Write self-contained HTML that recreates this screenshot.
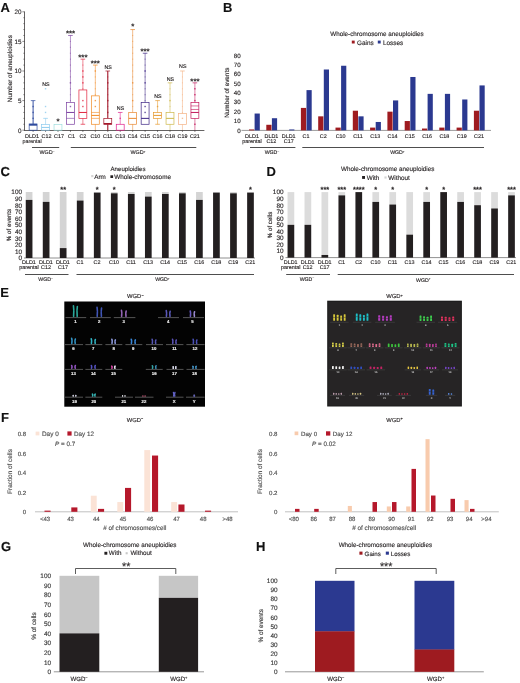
<!DOCTYPE html>
<html lang="en">
<head>
<meta charset="utf-8">
<title>Figure</title>
<style>
html,body{margin:0;padding:0;background:#ffffff;}
body{width:520px;height:683px;overflow:hidden;}
svg{display:block;font-family:"Liberation Sans",sans-serif;}
text{stroke-width:0.13px;paint-order:stroke fill;text-rendering:geometricPrecision;}
</style>
</head>
<body>
<svg width="520" height="683" viewBox="0 0 520 683" font-family="'Liberation Sans', sans-serif">
<rect x="0" y="0" width="520" height="683" fill="#ffffff"/>
<text x="0.50" y="11.80" font-size="13" text-anchor="start" fill="#111111" stroke="#111111" font-weight="bold">A</text>
<text x="223.10" y="11.80" font-size="13" text-anchor="start" fill="#111111" stroke="#111111" font-weight="bold">B</text>
<text x="0.40" y="175.70" font-size="13" text-anchor="start" fill="#111111" stroke="#111111" font-weight="bold">C</text>
<text x="266.50" y="175.60" font-size="13" text-anchor="start" fill="#111111" stroke="#111111" font-weight="bold">D</text>
<text x="0.30" y="297.00" font-size="13" text-anchor="start" fill="#111111" stroke="#111111" font-weight="bold">E</text>
<text x="1.00" y="422.20" font-size="13" text-anchor="start" fill="#111111" stroke="#111111" font-weight="bold">F</text>
<text x="1.00" y="551.20" font-size="13" text-anchor="start" fill="#111111" stroke="#111111" font-weight="bold">G</text>
<text x="256.00" y="551.00" font-size="13" text-anchor="start" fill="#111111" stroke="#111111" font-weight="bold">H</text>
<line x1="24.50" y1="11.50" x2="24.50" y2="130.50" stroke="#231f20" stroke-width="0.7"/>
<line x1="24.20" y1="130.50" x2="204.40" y2="130.50" stroke="#231f20" stroke-width="0.7"/>
<line x1="22.30" y1="130.20" x2="24.50" y2="130.20" stroke="#231f20" stroke-width="0.5"/>
<line x1="23.30" y1="124.28" x2="24.50" y2="124.28" stroke="#231f20" stroke-width="0.5"/>
<line x1="23.30" y1="118.36" x2="24.50" y2="118.36" stroke="#231f20" stroke-width="0.5"/>
<line x1="23.30" y1="112.44" x2="24.50" y2="112.44" stroke="#231f20" stroke-width="0.5"/>
<line x1="23.30" y1="106.52" x2="24.50" y2="106.52" stroke="#231f20" stroke-width="0.5"/>
<line x1="22.30" y1="100.60" x2="24.50" y2="100.60" stroke="#231f20" stroke-width="0.5"/>
<line x1="23.30" y1="94.68" x2="24.50" y2="94.68" stroke="#231f20" stroke-width="0.5"/>
<line x1="23.30" y1="88.76" x2="24.50" y2="88.76" stroke="#231f20" stroke-width="0.5"/>
<line x1="23.30" y1="82.84" x2="24.50" y2="82.84" stroke="#231f20" stroke-width="0.5"/>
<line x1="23.30" y1="76.92" x2="24.50" y2="76.92" stroke="#231f20" stroke-width="0.5"/>
<line x1="22.30" y1="71.00" x2="24.50" y2="71.00" stroke="#231f20" stroke-width="0.5"/>
<line x1="23.30" y1="65.08" x2="24.50" y2="65.08" stroke="#231f20" stroke-width="0.5"/>
<line x1="23.30" y1="59.16" x2="24.50" y2="59.16" stroke="#231f20" stroke-width="0.5"/>
<line x1="23.30" y1="53.24" x2="24.50" y2="53.24" stroke="#231f20" stroke-width="0.5"/>
<line x1="23.30" y1="47.32" x2="24.50" y2="47.32" stroke="#231f20" stroke-width="0.5"/>
<line x1="22.30" y1="41.40" x2="24.50" y2="41.40" stroke="#231f20" stroke-width="0.5"/>
<line x1="23.30" y1="35.48" x2="24.50" y2="35.48" stroke="#231f20" stroke-width="0.5"/>
<line x1="23.30" y1="29.56" x2="24.50" y2="29.56" stroke="#231f20" stroke-width="0.5"/>
<line x1="23.30" y1="23.64" x2="24.50" y2="23.64" stroke="#231f20" stroke-width="0.5"/>
<line x1="23.30" y1="17.72" x2="24.50" y2="17.72" stroke="#231f20" stroke-width="0.5"/>
<line x1="22.30" y1="11.80" x2="24.50" y2="11.80" stroke="#231f20" stroke-width="0.5"/>
<text x="21.50" y="132.50" font-size="6.3" text-anchor="end" fill="#231f20" stroke="#231f20">0</text>
<text x="21.50" y="102.90" font-size="6.3" text-anchor="end" fill="#231f20" stroke="#231f20">5</text>
<text x="21.50" y="73.30" font-size="6.3" text-anchor="end" fill="#231f20" stroke="#231f20">10</text>
<text x="21.50" y="43.70" font-size="6.3" text-anchor="end" fill="#231f20" stroke="#231f20">15</text>
<text x="21.50" y="14.10" font-size="6.3" text-anchor="end" fill="#231f20" stroke="#231f20">20</text>
<line x1="33.10" y1="130.20" x2="33.10" y2="132.00" stroke="#231f20" stroke-width="0.5"/>
<line x1="45.55" y1="130.20" x2="45.55" y2="132.00" stroke="#231f20" stroke-width="0.5"/>
<line x1="57.99" y1="130.20" x2="57.99" y2="132.00" stroke="#231f20" stroke-width="0.5"/>
<line x1="70.44" y1="130.20" x2="70.44" y2="132.00" stroke="#231f20" stroke-width="0.5"/>
<line x1="82.88" y1="130.20" x2="82.88" y2="132.00" stroke="#231f20" stroke-width="0.5"/>
<line x1="95.33" y1="130.20" x2="95.33" y2="132.00" stroke="#231f20" stroke-width="0.5"/>
<line x1="107.78" y1="130.20" x2="107.78" y2="132.00" stroke="#231f20" stroke-width="0.5"/>
<line x1="120.22" y1="130.20" x2="120.22" y2="132.00" stroke="#231f20" stroke-width="0.5"/>
<line x1="132.67" y1="130.20" x2="132.67" y2="132.00" stroke="#231f20" stroke-width="0.5"/>
<line x1="145.11" y1="130.20" x2="145.11" y2="132.00" stroke="#231f20" stroke-width="0.5"/>
<line x1="157.56" y1="130.20" x2="157.56" y2="132.00" stroke="#231f20" stroke-width="0.5"/>
<line x1="170.01" y1="130.20" x2="170.01" y2="132.00" stroke="#231f20" stroke-width="0.5"/>
<line x1="182.45" y1="130.20" x2="182.45" y2="132.00" stroke="#231f20" stroke-width="0.5"/>
<line x1="194.90" y1="130.20" x2="194.90" y2="132.00" stroke="#231f20" stroke-width="0.5"/>
<text x="11.80" y="68.70" font-size="6.35" text-anchor="middle" fill="#231f20" stroke="#231f20" transform="rotate(-90 11.80 68.70)">Number of aneuploidies</text>
<line x1="33.10" y1="100.60" x2="33.10" y2="123.98" stroke="#2f4b9f" stroke-width="0.95"/>
<line x1="30.80" y1="100.60" x2="35.40" y2="100.60" stroke="#2f4b9f" stroke-width="0.7"/>
<rect x="29.15" y="123.98" width="7.90" height="6.22" fill="none" stroke="#2f4b9f" stroke-width="0.7"/>
<line x1="29.15" y1="124.58" x2="37.05" y2="124.58" stroke="#2f4b9f" stroke-width="1.4"/>
<line x1="29.15" y1="125.46" x2="37.05" y2="125.46" stroke="#2f4b9f" stroke-width="0.6"/>
<rect x="32.40" y="117.66" width="1.40" height="1.40" fill="#2f4b9f" opacity="0.8"/>
<rect x="32.40" y="111.74" width="1.40" height="1.40" fill="#2f4b9f" opacity="0.8"/>
<rect x="32.40" y="105.82" width="1.40" height="1.40" fill="#2f4b9f" opacity="0.8"/>
<text x="32.00" y="138.10" font-size="5.5" text-anchor="middle" fill="#231f20" stroke="#231f20">DLD1</text>
<text x="32.10" y="142.70" font-size="5.3" text-anchor="middle" fill="#231f20" stroke="#231f20">parental</text>
<line x1="45.55" y1="118.36" x2="45.55" y2="124.52" stroke="#8ccbee" stroke-width="0.55"/>
<line x1="43.25" y1="118.36" x2="47.85" y2="118.36" stroke="#8ccbee" stroke-width="0.7"/>
<rect x="41.60" y="124.52" width="7.90" height="5.68" fill="none" stroke="#8ccbee" stroke-width="0.7"/>
<line x1="41.60" y1="127.42" x2="49.50" y2="127.42" stroke="#8ccbee" stroke-width="1.0"/>
<rect x="44.85" y="111.74" width="1.40" height="1.40" fill="#8ccbee" opacity="0.8"/>
<rect x="44.85" y="105.82" width="1.40" height="1.40" fill="#8ccbee" opacity="0.8"/>
<rect x="44.85" y="88.06" width="1.40" height="1.40" fill="#8ccbee" opacity="0.8"/>
<text x="45.85" y="85.60" font-size="5.3" text-anchor="middle" fill="#231f20" stroke="#231f20">NS</text>
<text x="46.55" y="138.10" font-size="5.4" text-anchor="middle" fill="#231f20" stroke="#231f20">C12</text>
<line x1="57.99" y1="124.52" x2="57.99" y2="124.52" stroke="#9fdede" stroke-width="0.55"/>
<rect x="54.04" y="124.52" width="7.90" height="5.68" fill="none" stroke="#9fdede" stroke-width="0.7"/>
<text x="57.99" y="124.40" font-size="7.8" text-anchor="middle" fill="#231f20" stroke="#231f20" font-weight="bold">*</text>
<text x="58.99" y="138.10" font-size="5.4" text-anchor="middle" fill="#231f20" stroke="#231f20">C17</text>
<line x1="70.44" y1="35.48" x2="70.44" y2="102.38" stroke="#7b3fa0" stroke-width="0.55"/>
<line x1="68.14" y1="35.48" x2="72.74" y2="35.48" stroke="#7b3fa0" stroke-width="0.7"/>
<rect x="66.49" y="102.38" width="7.90" height="21.90" fill="none" stroke="#7b3fa0" stroke-width="0.7"/>
<line x1="66.49" y1="112.44" x2="74.39" y2="112.44" stroke="#7b3fa0" stroke-width="1.0"/>
<line x1="66.49" y1="118.36" x2="74.39" y2="118.36" stroke="#7b3fa0" stroke-width="0.6"/>
<rect x="69.89" y="100.05" width="1.10" height="1.10" fill="#7b3fa0" opacity="0.45"/>
<rect x="69.89" y="94.13" width="1.10" height="1.10" fill="#7b3fa0" opacity="0.45"/>
<rect x="69.89" y="88.21" width="1.10" height="1.10" fill="#7b3fa0" opacity="0.45"/>
<rect x="69.89" y="76.37" width="1.10" height="1.10" fill="#7b3fa0" opacity="0.45"/>
<rect x="69.89" y="70.45" width="1.10" height="1.10" fill="#7b3fa0" opacity="0.45"/>
<rect x="69.89" y="64.53" width="1.10" height="1.10" fill="#7b3fa0" opacity="0.45"/>
<rect x="69.89" y="58.61" width="1.10" height="1.10" fill="#7b3fa0" opacity="0.45"/>
<rect x="69.89" y="52.69" width="1.10" height="1.10" fill="#7b3fa0" opacity="0.45"/>
<rect x="69.89" y="46.77" width="1.10" height="1.10" fill="#7b3fa0" opacity="0.45"/>
<rect x="69.89" y="40.85" width="1.10" height="1.10" fill="#7b3fa0" opacity="0.45"/>
<rect x="69.74" y="105.82" width="1.40" height="1.40" fill="#7b3fa0" opacity="0.8"/>
<rect x="69.74" y="82.14" width="1.40" height="1.40" fill="#7b3fa0" opacity="0.8"/>
<text x="70.44" y="36.30" font-size="7.8" text-anchor="middle" fill="#231f20" stroke="#231f20" font-weight="bold">***</text>
<text x="71.44" y="138.10" font-size="5.4" text-anchor="middle" fill="#231f20" stroke="#231f20">C1</text>
<line x1="82.88" y1="59.16" x2="82.88" y2="89.94" stroke="#e0223c" stroke-width="0.55"/>
<line x1="82.88" y1="118.36" x2="82.88" y2="124.28" stroke="#e0223c" stroke-width="0.55"/>
<line x1="80.58" y1="59.16" x2="85.18" y2="59.16" stroke="#e0223c" stroke-width="0.7"/>
<line x1="80.58" y1="124.28" x2="85.18" y2="124.28" stroke="#e0223c" stroke-width="0.7"/>
<rect x="78.93" y="89.94" width="7.90" height="28.42" fill="none" stroke="#e0223c" stroke-width="0.7"/>
<line x1="78.93" y1="112.44" x2="86.83" y2="112.44" stroke="#e0223c" stroke-width="1.0"/>
<rect x="82.33" y="88.21" width="1.10" height="1.10" fill="#e0223c" opacity="0.45"/>
<rect x="82.33" y="64.53" width="1.10" height="1.10" fill="#e0223c" opacity="0.45"/>
<rect x="82.18" y="105.82" width="1.40" height="1.40" fill="#e0223c" opacity="0.8"/>
<rect x="82.18" y="99.90" width="1.40" height="1.40" fill="#e0223c" opacity="0.8"/>
<rect x="82.18" y="82.14" width="1.40" height="1.40" fill="#e0223c" opacity="0.8"/>
<rect x="82.18" y="76.22" width="1.40" height="1.40" fill="#e0223c" opacity="0.8"/>
<rect x="82.18" y="70.30" width="1.40" height="1.40" fill="#e0223c" opacity="0.8"/>
<text x="82.88" y="59.80" font-size="7.8" text-anchor="middle" fill="#231f20" stroke="#231f20" font-weight="bold">***</text>
<text x="82.88" y="138.10" font-size="5.4" text-anchor="middle" fill="#231f20" stroke="#231f20">C2</text>
<line x1="95.33" y1="65.08" x2="95.33" y2="95.86" stroke="#f08a24" stroke-width="0.55"/>
<line x1="95.33" y1="124.28" x2="95.33" y2="130.20" stroke="#f08a24" stroke-width="0.55"/>
<line x1="93.03" y1="65.08" x2="97.63" y2="65.08" stroke="#f08a24" stroke-width="0.7"/>
<rect x="91.38" y="95.86" width="7.90" height="28.42" fill="none" stroke="#f08a24" stroke-width="0.7"/>
<line x1="91.38" y1="115.40" x2="99.28" y2="115.40" stroke="#f08a24" stroke-width="1.0"/>
<line x1="91.38" y1="118.36" x2="99.28" y2="118.36" stroke="#f08a24" stroke-width="0.6"/>
<line x1="91.38" y1="112.44" x2="99.28" y2="112.44" stroke="#f08a24" stroke-width="0.6"/>
<rect x="94.78" y="94.13" width="1.10" height="1.10" fill="#f08a24" opacity="0.45"/>
<rect x="94.78" y="88.21" width="1.10" height="1.10" fill="#f08a24" opacity="0.45"/>
<rect x="94.78" y="82.29" width="1.10" height="1.10" fill="#f08a24" opacity="0.45"/>
<rect x="94.78" y="76.37" width="1.10" height="1.10" fill="#f08a24" opacity="0.45"/>
<rect x="94.63" y="105.82" width="1.40" height="1.40" fill="#f08a24" opacity="0.8"/>
<rect x="94.63" y="99.90" width="1.40" height="1.40" fill="#f08a24" opacity="0.8"/>
<rect x="94.63" y="70.30" width="1.40" height="1.40" fill="#f08a24" opacity="0.8"/>
<text x="95.33" y="65.60" font-size="7.8" text-anchor="middle" fill="#231f20" stroke="#231f20" font-weight="bold">***</text>
<text x="95.33" y="138.10" font-size="5.4" text-anchor="middle" fill="#231f20" stroke="#231f20">C10</text>
<line x1="107.78" y1="71.00" x2="107.78" y2="118.36" stroke="#a3182a" stroke-width="1.1"/>
<line x1="107.78" y1="124.28" x2="107.78" y2="130.20" stroke="#a3182a" stroke-width="1.1"/>
<line x1="105.48" y1="71.00" x2="110.08" y2="71.00" stroke="#a3182a" stroke-width="0.7"/>
<rect x="103.83" y="118.36" width="7.90" height="5.92" fill="none" stroke="#a3182a" stroke-width="0.7"/>
<line x1="103.83" y1="123.69" x2="111.73" y2="123.69" stroke="#a3182a" stroke-width="1.4"/>
<rect x="107.23" y="105.97" width="1.10" height="1.10" fill="#a3182a" opacity="0.45"/>
<rect x="107.23" y="94.13" width="1.10" height="1.10" fill="#a3182a" opacity="0.45"/>
<rect x="107.23" y="88.21" width="1.10" height="1.10" fill="#a3182a" opacity="0.45"/>
<rect x="107.23" y="76.37" width="1.10" height="1.10" fill="#a3182a" opacity="0.45"/>
<rect x="107.08" y="111.74" width="1.40" height="1.40" fill="#a3182a" opacity="0.8"/>
<rect x="107.08" y="99.90" width="1.40" height="1.40" fill="#a3182a" opacity="0.8"/>
<rect x="107.08" y="82.14" width="1.40" height="1.40" fill="#a3182a" opacity="0.8"/>
<text x="108.08" y="69.20" font-size="5.3" text-anchor="middle" fill="#231f20" stroke="#231f20">NS</text>
<text x="107.78" y="138.10" font-size="5.4" text-anchor="middle" fill="#231f20" stroke="#231f20">C11</text>
<line x1="120.22" y1="112.44" x2="120.22" y2="124.28" stroke="#e0208c" stroke-width="0.55"/>
<line x1="117.92" y1="112.44" x2="122.52" y2="112.44" stroke="#e0208c" stroke-width="0.7"/>
<rect x="116.27" y="124.28" width="7.90" height="5.92" fill="none" stroke="#e0208c" stroke-width="0.7"/>
<rect x="119.52" y="117.66" width="1.40" height="1.40" fill="#e0208c" opacity="0.8"/>
<text x="120.52" y="110.10" font-size="5.3" text-anchor="middle" fill="#231f20" stroke="#231f20">NS</text>
<text x="120.22" y="138.10" font-size="5.4" text-anchor="middle" fill="#231f20" stroke="#231f20">C13</text>
<line x1="132.67" y1="29.56" x2="132.67" y2="112.44" stroke="#e8872e" stroke-width="0.55"/>
<line x1="132.67" y1="124.28" x2="132.67" y2="130.20" stroke="#e8872e" stroke-width="0.55"/>
<line x1="130.37" y1="29.56" x2="134.97" y2="29.56" stroke="#e8872e" stroke-width="0.7"/>
<rect x="128.72" y="112.44" width="7.90" height="11.84" fill="none" stroke="#e8872e" stroke-width="0.7"/>
<line x1="128.72" y1="118.36" x2="136.62" y2="118.36" stroke="#e8872e" stroke-width="1.0"/>
<rect x="132.12" y="105.97" width="1.10" height="1.10" fill="#e8872e" opacity="0.45"/>
<rect x="132.12" y="94.13" width="1.10" height="1.10" fill="#e8872e" opacity="0.45"/>
<rect x="132.12" y="88.21" width="1.10" height="1.10" fill="#e8872e" opacity="0.45"/>
<rect x="132.12" y="76.37" width="1.10" height="1.10" fill="#e8872e" opacity="0.45"/>
<rect x="132.12" y="70.45" width="1.10" height="1.10" fill="#e8872e" opacity="0.45"/>
<rect x="132.12" y="64.53" width="1.10" height="1.10" fill="#e8872e" opacity="0.45"/>
<rect x="132.12" y="58.61" width="1.10" height="1.10" fill="#e8872e" opacity="0.45"/>
<rect x="132.12" y="52.69" width="1.10" height="1.10" fill="#e8872e" opacity="0.45"/>
<rect x="132.12" y="46.77" width="1.10" height="1.10" fill="#e8872e" opacity="0.45"/>
<rect x="132.12" y="40.85" width="1.10" height="1.10" fill="#e8872e" opacity="0.45"/>
<rect x="132.12" y="34.93" width="1.10" height="1.10" fill="#e8872e" opacity="0.45"/>
<rect x="131.97" y="99.90" width="1.40" height="1.40" fill="#e8872e" opacity="0.8"/>
<rect x="131.97" y="82.14" width="1.40" height="1.40" fill="#e8872e" opacity="0.8"/>
<text x="132.67" y="29.00" font-size="7.8" text-anchor="middle" fill="#231f20" stroke="#231f20" font-weight="bold">*</text>
<text x="132.67" y="138.10" font-size="5.4" text-anchor="middle" fill="#231f20" stroke="#231f20">C14</text>
<line x1="145.11" y1="53.24" x2="145.11" y2="102.38" stroke="#3b2383" stroke-width="0.55"/>
<line x1="142.81" y1="53.24" x2="147.41" y2="53.24" stroke="#3b2383" stroke-width="0.7"/>
<rect x="141.16" y="102.38" width="7.90" height="21.90" fill="none" stroke="#3b2383" stroke-width="0.7"/>
<line x1="141.16" y1="118.36" x2="149.06" y2="118.36" stroke="#3b2383" stroke-width="1.0"/>
<rect x="144.56" y="100.05" width="1.10" height="1.10" fill="#3b2383" opacity="0.45"/>
<rect x="144.56" y="94.13" width="1.10" height="1.10" fill="#3b2383" opacity="0.45"/>
<rect x="144.56" y="88.21" width="1.10" height="1.10" fill="#3b2383" opacity="0.45"/>
<rect x="144.56" y="76.37" width="1.10" height="1.10" fill="#3b2383" opacity="0.45"/>
<rect x="144.56" y="64.53" width="1.10" height="1.10" fill="#3b2383" opacity="0.45"/>
<rect x="144.56" y="58.61" width="1.10" height="1.10" fill="#3b2383" opacity="0.45"/>
<rect x="144.41" y="111.74" width="1.40" height="1.40" fill="#3b2383" opacity="0.8"/>
<rect x="144.41" y="105.82" width="1.40" height="1.40" fill="#3b2383" opacity="0.8"/>
<rect x="144.41" y="82.14" width="1.40" height="1.40" fill="#3b2383" opacity="0.8"/>
<rect x="144.41" y="70.30" width="1.40" height="1.40" fill="#3b2383" opacity="0.8"/>
<text x="145.11" y="54.00" font-size="7.8" text-anchor="middle" fill="#231f20" stroke="#231f20" font-weight="bold">***</text>
<text x="145.11" y="138.10" font-size="5.4" text-anchor="middle" fill="#231f20" stroke="#231f20">C15</text>
<line x1="157.56" y1="100.60" x2="157.56" y2="112.44" stroke="#e59a2e" stroke-width="0.55"/>
<line x1="157.56" y1="118.36" x2="157.56" y2="124.28" stroke="#e59a2e" stroke-width="0.55"/>
<line x1="155.26" y1="100.60" x2="159.86" y2="100.60" stroke="#e59a2e" stroke-width="0.7"/>
<line x1="155.26" y1="124.28" x2="159.86" y2="124.28" stroke="#e59a2e" stroke-width="0.7"/>
<rect x="153.61" y="112.44" width="7.90" height="5.92" fill="none" stroke="#e59a2e" stroke-width="0.7"/>
<line x1="153.61" y1="115.40" x2="161.51" y2="115.40" stroke="#e59a2e" stroke-width="1.0"/>
<rect x="156.86" y="105.82" width="1.40" height="1.40" fill="#e59a2e" opacity="0.8"/>
<text x="157.86" y="97.70" font-size="5.3" text-anchor="middle" fill="#231f20" stroke="#231f20">NS</text>
<text x="157.56" y="138.10" font-size="5.4" text-anchor="middle" fill="#231f20" stroke="#231f20">C16</text>
<line x1="170.01" y1="82.84" x2="170.01" y2="112.44" stroke="#cdb84a" stroke-width="0.55"/>
<line x1="170.01" y1="124.28" x2="170.01" y2="130.20" stroke="#cdb84a" stroke-width="0.55"/>
<line x1="167.71" y1="82.84" x2="172.31" y2="82.84" stroke="#cdb84a" stroke-width="0.7"/>
<rect x="166.06" y="112.44" width="7.90" height="11.84" fill="none" stroke="#cdb84a" stroke-width="0.7"/>
<line x1="166.06" y1="118.36" x2="173.96" y2="118.36" stroke="#cdb84a" stroke-width="1.0"/>
<rect x="169.46" y="105.97" width="1.10" height="1.10" fill="#cdb84a" opacity="0.45"/>
<rect x="169.46" y="94.13" width="1.10" height="1.10" fill="#cdb84a" opacity="0.45"/>
<rect x="169.46" y="88.21" width="1.10" height="1.10" fill="#cdb84a" opacity="0.45"/>
<rect x="169.31" y="99.90" width="1.40" height="1.40" fill="#cdb84a" opacity="0.8"/>
<text x="170.31" y="80.50" font-size="5.3" text-anchor="middle" fill="#231f20" stroke="#231f20">NS</text>
<text x="170.01" y="138.10" font-size="5.4" text-anchor="middle" fill="#231f20" stroke="#231f20">C18</text>
<line x1="182.45" y1="71.00" x2="182.45" y2="113.62" stroke="#f4b183" stroke-width="0.55"/>
<line x1="182.45" y1="124.58" x2="182.45" y2="130.20" stroke="#f4b183" stroke-width="0.55"/>
<line x1="180.15" y1="71.00" x2="184.75" y2="71.00" stroke="#f4b183" stroke-width="0.7"/>
<rect x="178.50" y="113.62" width="7.90" height="10.95" fill="none" stroke="#f4b183" stroke-width="0.7"/>
<rect x="181.90" y="111.89" width="1.10" height="1.10" fill="#f4b183" opacity="0.45"/>
<rect x="181.90" y="105.97" width="1.10" height="1.10" fill="#f4b183" opacity="0.45"/>
<rect x="181.90" y="100.05" width="1.10" height="1.10" fill="#f4b183" opacity="0.45"/>
<rect x="181.90" y="94.13" width="1.10" height="1.10" fill="#f4b183" opacity="0.45"/>
<rect x="181.90" y="88.21" width="1.10" height="1.10" fill="#f4b183" opacity="0.45"/>
<rect x="181.90" y="82.29" width="1.10" height="1.10" fill="#f4b183" opacity="0.45"/>
<rect x="181.90" y="76.37" width="1.10" height="1.10" fill="#f4b183" opacity="0.45"/>
<rect x="181.75" y="117.66" width="1.40" height="1.40" fill="#f4b183" opacity="0.8"/>
<text x="182.75" y="68.30" font-size="5.3" text-anchor="middle" fill="#231f20" stroke="#231f20">NS</text>
<text x="182.45" y="138.10" font-size="5.4" text-anchor="middle" fill="#231f20" stroke="#231f20">C19</text>
<line x1="194.90" y1="82.84" x2="194.90" y2="102.38" stroke="#c2185b" stroke-width="0.55"/>
<line x1="194.90" y1="118.36" x2="194.90" y2="130.20" stroke="#c2185b" stroke-width="0.55"/>
<line x1="192.60" y1="82.84" x2="197.20" y2="82.84" stroke="#c2185b" stroke-width="0.7"/>
<rect x="190.95" y="102.38" width="7.90" height="15.98" fill="none" stroke="#c2185b" stroke-width="0.7"/>
<line x1="190.95" y1="112.44" x2="198.85" y2="112.44" stroke="#c2185b" stroke-width="1.0"/>
<line x1="190.95" y1="109.48" x2="198.85" y2="109.48" stroke="#c2185b" stroke-width="0.6"/>
<line x1="190.95" y1="105.93" x2="198.85" y2="105.93" stroke="#c2185b" stroke-width="0.6"/>
<rect x="194.20" y="123.58" width="1.40" height="1.40" fill="#c2185b" opacity="0.8"/>
<rect x="194.20" y="99.90" width="1.40" height="1.40" fill="#c2185b" opacity="0.8"/>
<rect x="194.20" y="93.98" width="1.40" height="1.40" fill="#c2185b" opacity="0.8"/>
<rect x="194.20" y="88.06" width="1.40" height="1.40" fill="#c2185b" opacity="0.8"/>
<text x="194.90" y="84.40" font-size="7.8" text-anchor="middle" fill="#231f20" stroke="#231f20" font-weight="bold">***</text>
<text x="194.90" y="138.10" font-size="5.4" text-anchor="middle" fill="#231f20" stroke="#231f20">C21</text>
<line x1="32.00" y1="147.50" x2="59.20" y2="147.50" stroke="#3a3a3a" stroke-width="0.9"/>
<text x="47.00" y="154.30" font-size="5.4" text-anchor="middle" fill="#231f20" stroke="#231f20">WGD<tspan font-size="3.51" dy="-1.51">−</tspan></text>
<line x1="70.80" y1="147.50" x2="196.30" y2="147.50" stroke="#3a3a3a" stroke-width="0.9"/>
<text x="138.00" y="154.30" font-size="5.4" text-anchor="middle" fill="#231f20" stroke="#231f20">WGD<tspan font-size="3.51" dy="-1.51">+</tspan></text>
<line x1="241.50" y1="130.40" x2="491.00" y2="130.40" stroke="#555" stroke-width="0.6"/>
<text x="240.60" y="132.60" font-size="6.2" text-anchor="end" fill="#231f20" stroke="#231f20">0</text>
<text x="240.60" y="123.23" font-size="6.2" text-anchor="end" fill="#231f20" stroke="#231f20">10</text>
<text x="240.60" y="113.86" font-size="6.2" text-anchor="end" fill="#231f20" stroke="#231f20">20</text>
<text x="240.60" y="104.49" font-size="6.2" text-anchor="end" fill="#231f20" stroke="#231f20">30</text>
<text x="240.60" y="95.12" font-size="6.2" text-anchor="end" fill="#231f20" stroke="#231f20">40</text>
<text x="240.60" y="85.75" font-size="6.2" text-anchor="end" fill="#231f20" stroke="#231f20">50</text>
<text x="240.60" y="76.38" font-size="6.2" text-anchor="end" fill="#231f20" stroke="#231f20">60</text>
<text x="240.60" y="67.01" font-size="6.2" text-anchor="end" fill="#231f20" stroke="#231f20">70</text>
<text x="240.60" y="57.64" font-size="6.2" text-anchor="end" fill="#231f20" stroke="#231f20">80</text>
<text x="228.80" y="92.70" font-size="6.35" text-anchor="middle" fill="#231f20" stroke="#231f20" transform="rotate(-90 228.80 92.70)">Number of events</text>
<text x="377.00" y="36.00" font-size="6.3" text-anchor="middle" fill="#231f20" stroke="#231f20">Whole-chromosome aneuploidies</text>
<rect x="351.80" y="40.60" width="2.90" height="2.90" fill="#9e1b20"/>
<text x="357.00" y="45.20" font-size="6.4" text-anchor="start" fill="#231f20" stroke="#231f20">Gains</text>
<rect x="377.80" y="40.60" width="2.90" height="2.90" fill="#2b3990"/>
<text x="383.00" y="45.20" font-size="6.4" text-anchor="start" fill="#231f20" stroke="#231f20">Losses</text>
<rect x="249.00" y="129.46" width="5.20" height="0.94" fill="#9e1b20"/>
<rect x="254.60" y="113.53" width="5.20" height="16.87" fill="#2b3990"/>
<text x="252.00" y="138.10" font-size="5.4" text-anchor="middle" fill="#231f20" stroke="#231f20">DLD1</text>
<text x="252.00" y="142.80" font-size="5.4" text-anchor="middle" fill="#231f20" stroke="#231f20">parental</text>
<rect x="266.30" y="124.78" width="5.20" height="5.62" fill="#9e1b20"/>
<rect x="271.90" y="118.22" width="5.20" height="12.18" fill="#2b3990"/>
<text x="271.40" y="138.10" font-size="5.4" text-anchor="middle" fill="#231f20" stroke="#231f20">DLD1</text>
<text x="271.40" y="142.80" font-size="5.4" text-anchor="middle" fill="#231f20" stroke="#231f20">C12</text>
<rect x="289.20" y="129.46" width="5.20" height="0.94" fill="#2b3990"/>
<text x="288.70" y="138.10" font-size="5.4" text-anchor="middle" fill="#231f20" stroke="#231f20">DLD1</text>
<text x="288.70" y="142.80" font-size="5.4" text-anchor="middle" fill="#231f20" stroke="#231f20">C17</text>
<rect x="300.90" y="107.91" width="5.20" height="22.49" fill="#9e1b20"/>
<rect x="306.50" y="90.11" width="5.20" height="40.29" fill="#2b3990"/>
<text x="306.00" y="138.10" font-size="5.4" text-anchor="middle" fill="#231f20" stroke="#231f20">C1</text>
<rect x="318.20" y="116.34" width="5.20" height="14.06" fill="#9e1b20"/>
<rect x="323.80" y="69.50" width="5.20" height="60.91" fill="#2b3990"/>
<text x="323.30" y="138.10" font-size="5.4" text-anchor="middle" fill="#231f20" stroke="#231f20">C2</text>
<rect x="335.50" y="127.59" width="5.20" height="2.81" fill="#9e1b20"/>
<rect x="341.10" y="65.75" width="5.20" height="64.65" fill="#2b3990"/>
<text x="340.60" y="138.10" font-size="5.4" text-anchor="middle" fill="#231f20" stroke="#231f20">C10</text>
<rect x="352.80" y="110.72" width="5.20" height="19.68" fill="#9e1b20"/>
<rect x="358.40" y="116.34" width="5.20" height="14.06" fill="#2b3990"/>
<text x="357.90" y="138.10" font-size="5.4" text-anchor="middle" fill="#231f20" stroke="#231f20">C11</text>
<rect x="370.10" y="127.59" width="5.20" height="2.81" fill="#9e1b20"/>
<rect x="375.70" y="121.97" width="5.20" height="8.43" fill="#2b3990"/>
<text x="375.20" y="138.10" font-size="5.4" text-anchor="middle" fill="#231f20" stroke="#231f20">C13</text>
<rect x="387.40" y="111.66" width="5.20" height="18.74" fill="#9e1b20"/>
<rect x="393.00" y="100.42" width="5.20" height="29.98" fill="#2b3990"/>
<text x="392.50" y="138.10" font-size="5.4" text-anchor="middle" fill="#231f20" stroke="#231f20">C14</text>
<rect x="404.70" y="121.03" width="5.20" height="9.37" fill="#9e1b20"/>
<rect x="410.30" y="76.99" width="5.20" height="53.41" fill="#2b3990"/>
<text x="409.80" y="138.10" font-size="5.4" text-anchor="middle" fill="#231f20" stroke="#231f20">C15</text>
<rect x="422.00" y="128.53" width="5.20" height="1.87" fill="#9e1b20"/>
<rect x="427.60" y="93.86" width="5.20" height="36.54" fill="#2b3990"/>
<text x="427.10" y="138.10" font-size="5.4" text-anchor="middle" fill="#231f20" stroke="#231f20">C16</text>
<rect x="439.30" y="127.59" width="5.20" height="2.81" fill="#9e1b20"/>
<rect x="444.90" y="93.86" width="5.20" height="36.54" fill="#2b3990"/>
<text x="444.40" y="138.10" font-size="5.4" text-anchor="middle" fill="#231f20" stroke="#231f20">C18</text>
<rect x="456.60" y="127.59" width="5.20" height="2.81" fill="#9e1b20"/>
<rect x="462.20" y="99.48" width="5.20" height="30.92" fill="#2b3990"/>
<text x="461.70" y="138.10" font-size="5.4" text-anchor="middle" fill="#231f20" stroke="#231f20">C19</text>
<rect x="473.90" y="110.72" width="5.20" height="19.68" fill="#9e1b20"/>
<rect x="479.50" y="85.42" width="5.20" height="44.98" fill="#2b3990"/>
<text x="479.00" y="138.10" font-size="5.4" text-anchor="middle" fill="#231f20" stroke="#231f20">C21</text>
<line x1="250.00" y1="147.50" x2="295.40" y2="147.50" stroke="#3a3a3a" stroke-width="0.9"/>
<text x="272.00" y="154.20" font-size="5.2" text-anchor="middle" fill="#231f20" stroke="#231f20">WGD<tspan font-size="3.38" dy="-1.46">−</tspan></text>
<line x1="302.30" y1="147.50" x2="484.00" y2="147.50" stroke="#3a3a3a" stroke-width="0.9"/>
<text x="397.50" y="154.40" font-size="5.2" text-anchor="middle" fill="#231f20" stroke="#231f20">WGD<tspan font-size="3.38" dy="-1.46">+</tspan></text>
<line x1="24.00" y1="258.00" x2="255.00" y2="258.00" stroke="#444" stroke-width="0.6"/>
<text x="22.00" y="260.30" font-size="6.4" text-anchor="end" fill="#231f20" stroke="#231f20">0</text>
<text x="22.00" y="253.70" font-size="6.4" text-anchor="end" fill="#231f20" stroke="#231f20">10</text>
<text x="22.00" y="247.10" font-size="6.4" text-anchor="end" fill="#231f20" stroke="#231f20">20</text>
<text x="22.00" y="240.50" font-size="6.4" text-anchor="end" fill="#231f20" stroke="#231f20">30</text>
<text x="22.00" y="233.90" font-size="6.4" text-anchor="end" fill="#231f20" stroke="#231f20">40</text>
<text x="22.00" y="227.30" font-size="6.4" text-anchor="end" fill="#231f20" stroke="#231f20">50</text>
<text x="22.00" y="220.70" font-size="6.4" text-anchor="end" fill="#231f20" stroke="#231f20">60</text>
<text x="22.00" y="214.10" font-size="6.4" text-anchor="end" fill="#231f20" stroke="#231f20">70</text>
<text x="22.00" y="207.50" font-size="6.4" text-anchor="end" fill="#231f20" stroke="#231f20">80</text>
<text x="22.00" y="200.90" font-size="6.4" text-anchor="end" fill="#231f20" stroke="#231f20">90</text>
<text x="22.00" y="194.30" font-size="6.4" text-anchor="end" fill="#231f20" stroke="#231f20">100</text>
<text x="10.90" y="225.00" font-size="6.2" text-anchor="middle" fill="#231f20" stroke="#231f20" transform="rotate(-90 10.90 225.00)">% of events</text>
<text x="128.00" y="171.20" font-size="6.1" text-anchor="middle" fill="#231f20" stroke="#231f20">Aneuploidies</text>
<rect x="91.20" y="175.00" width="2.20" height="2.20" fill="#d4d4d4"/>
<text x="94.20" y="178.70" font-size="6.3" text-anchor="start" fill="#231f20" stroke="#231f20">Arm</text>
<rect x="110.40" y="175.30" width="2.70" height="2.70" fill="#231f20"/>
<text x="114.20" y="178.70" font-size="6.35" text-anchor="start" fill="#231f20" stroke="#231f20">Whole-chromosome</text>
<rect x="25.75" y="192.00" width="6.70" height="8.12" fill="#d4d4d4"/>
<rect x="25.75" y="199.92" width="6.70" height="58.08" fill="#231f20"/>
<text x="28.90" y="263.90" font-size="5.4" text-anchor="middle" fill="#231f20" stroke="#231f20">DLD1</text>
<text x="28.90" y="268.60" font-size="5.4" text-anchor="middle" fill="#231f20" stroke="#231f20">parental</text>
<rect x="42.78" y="192.00" width="6.70" height="10.10" fill="#d4d4d4"/>
<rect x="42.78" y="201.90" width="6.70" height="56.10" fill="#231f20"/>
<text x="45.93" y="263.90" font-size="5.4" text-anchor="middle" fill="#231f20" stroke="#231f20">DLD1</text>
<text x="45.93" y="268.60" font-size="5.4" text-anchor="middle" fill="#231f20" stroke="#231f20">C12</text>
<rect x="59.81" y="192.00" width="6.70" height="56.30" fill="#d4d4d4"/>
<rect x="59.81" y="248.10" width="6.70" height="9.90" fill="#231f20"/>
<text x="62.96" y="263.90" font-size="5.4" text-anchor="middle" fill="#231f20" stroke="#231f20">DLD1</text>
<text x="62.96" y="268.60" font-size="5.4" text-anchor="middle" fill="#231f20" stroke="#231f20">C17</text>
<text x="63.16" y="191.50" font-size="7.4" text-anchor="middle" fill="#231f20" stroke="#231f20" font-weight="bold">**</text>
<rect x="76.84" y="192.00" width="6.70" height="8.78" fill="#d4d4d4"/>
<rect x="76.84" y="200.58" width="6.70" height="57.42" fill="#231f20"/>
<text x="79.99" y="263.90" font-size="5.4" text-anchor="middle" fill="#231f20" stroke="#231f20">C1</text>
<rect x="93.87" y="192.00" width="6.70" height="0.86" fill="#d4d4d4"/>
<rect x="93.87" y="192.66" width="6.70" height="65.34" fill="#231f20"/>
<text x="97.02" y="263.90" font-size="5.4" text-anchor="middle" fill="#231f20" stroke="#231f20">C2</text>
<text x="97.22" y="191.50" font-size="7.4" text-anchor="middle" fill="#231f20" stroke="#231f20" font-weight="bold">*</text>
<rect x="110.90" y="192.00" width="6.70" height="1.52" fill="#d4d4d4"/>
<rect x="110.90" y="193.32" width="6.70" height="64.68" fill="#231f20"/>
<text x="114.05" y="263.90" font-size="5.4" text-anchor="middle" fill="#231f20" stroke="#231f20">C10</text>
<text x="114.25" y="191.50" font-size="7.4" text-anchor="middle" fill="#231f20" stroke="#231f20" font-weight="bold">*</text>
<rect x="127.93" y="192.00" width="6.70" height="2.18" fill="#d4d4d4"/>
<rect x="127.93" y="193.98" width="6.70" height="64.02" fill="#231f20"/>
<text x="131.08" y="263.90" font-size="5.4" text-anchor="middle" fill="#231f20" stroke="#231f20">C11</text>
<rect x="144.96" y="192.00" width="6.70" height="4.82" fill="#d4d4d4"/>
<rect x="144.96" y="196.62" width="6.70" height="61.38" fill="#231f20"/>
<text x="148.11" y="263.90" font-size="5.4" text-anchor="middle" fill="#231f20" stroke="#231f20">C13</text>
<rect x="161.99" y="192.00" width="6.70" height="2.18" fill="#d4d4d4"/>
<rect x="161.99" y="193.98" width="6.70" height="64.02" fill="#231f20"/>
<text x="165.14" y="263.90" font-size="5.4" text-anchor="middle" fill="#231f20" stroke="#231f20">C14</text>
<rect x="179.02" y="192.00" width="6.70" height="1.52" fill="#d4d4d4"/>
<rect x="179.02" y="193.32" width="6.70" height="64.68" fill="#231f20"/>
<text x="182.17" y="263.90" font-size="5.4" text-anchor="middle" fill="#231f20" stroke="#231f20">C15</text>
<rect x="196.05" y="192.00" width="6.70" height="8.12" fill="#d4d4d4"/>
<rect x="196.05" y="199.92" width="6.70" height="58.08" fill="#231f20"/>
<text x="199.20" y="263.90" font-size="5.4" text-anchor="middle" fill="#231f20" stroke="#231f20">C16</text>
<rect x="213.08" y="192.00" width="6.70" height="0.86" fill="#d4d4d4"/>
<rect x="213.08" y="192.66" width="6.70" height="65.34" fill="#231f20"/>
<text x="216.23" y="263.90" font-size="5.4" text-anchor="middle" fill="#231f20" stroke="#231f20">C18</text>
<rect x="230.11" y="192.00" width="6.70" height="1.52" fill="#d4d4d4"/>
<rect x="230.11" y="193.32" width="6.70" height="64.68" fill="#231f20"/>
<text x="233.26" y="263.90" font-size="5.4" text-anchor="middle" fill="#231f20" stroke="#231f20">C19</text>
<rect x="247.14" y="192.00" width="6.70" height="0.86" fill="#d4d4d4"/>
<rect x="247.14" y="192.66" width="6.70" height="65.34" fill="#231f20"/>
<text x="250.29" y="263.90" font-size="5.4" text-anchor="middle" fill="#231f20" stroke="#231f20">C21</text>
<text x="250.49" y="191.50" font-size="7.4" text-anchor="middle" fill="#231f20" stroke="#231f20" font-weight="bold">*</text>
<line x1="25.00" y1="274.50" x2="68.50" y2="274.50" stroke="#3a3a3a" stroke-width="0.9"/>
<text x="45.60" y="281.20" font-size="5.2" text-anchor="middle" fill="#231f20" stroke="#231f20">WGD<tspan font-size="3.38" dy="-1.46">−</tspan></text>
<line x1="76.50" y1="274.50" x2="254.00" y2="274.50" stroke="#3a3a3a" stroke-width="0.9"/>
<text x="162.50" y="281.20" font-size="5.2" text-anchor="middle" fill="#231f20" stroke="#231f20">WGD<tspan font-size="3.38" dy="-1.46">+</tspan></text>
<line x1="285.50" y1="257.60" x2="516.00" y2="257.60" stroke="#444" stroke-width="0.6"/>
<text x="283.50" y="259.90" font-size="6.4" text-anchor="end" fill="#231f20" stroke="#231f20">0</text>
<text x="283.50" y="253.35" font-size="6.4" text-anchor="end" fill="#231f20" stroke="#231f20">10</text>
<text x="283.50" y="246.80" font-size="6.4" text-anchor="end" fill="#231f20" stroke="#231f20">20</text>
<text x="283.50" y="240.25" font-size="6.4" text-anchor="end" fill="#231f20" stroke="#231f20">30</text>
<text x="283.50" y="233.70" font-size="6.4" text-anchor="end" fill="#231f20" stroke="#231f20">40</text>
<text x="283.50" y="227.15" font-size="6.4" text-anchor="end" fill="#231f20" stroke="#231f20">50</text>
<text x="283.50" y="220.60" font-size="6.4" text-anchor="end" fill="#231f20" stroke="#231f20">60</text>
<text x="283.50" y="214.05" font-size="6.4" text-anchor="end" fill="#231f20" stroke="#231f20">70</text>
<text x="283.50" y="207.50" font-size="6.4" text-anchor="end" fill="#231f20" stroke="#231f20">80</text>
<text x="283.50" y="200.95" font-size="6.4" text-anchor="end" fill="#231f20" stroke="#231f20">90</text>
<text x="283.50" y="194.40" font-size="6.4" text-anchor="end" fill="#231f20" stroke="#231f20">100</text>
<text x="272.40" y="225.00" font-size="6.2" text-anchor="middle" fill="#231f20" stroke="#231f20" transform="rotate(-90 272.40 225.00)">% of cells</text>
<text x="387.70" y="171.20" font-size="6.3" text-anchor="middle" fill="#231f20" stroke="#231f20">Whole-chromosome aneuploidies</text>
<rect x="362.10" y="176.00" width="2.90" height="2.90" fill="#231f20"/>
<text x="366.70" y="179.60" font-size="6.3" text-anchor="start" fill="#231f20" stroke="#231f20">With</text>
<rect x="384.40" y="176.40" width="2.20" height="2.20" fill="#d4d4d4"/>
<text x="388.30" y="179.60" font-size="6.35" text-anchor="start" fill="#231f20" stroke="#231f20">Without</text>
<rect x="287.55" y="192.10" width="6.70" height="32.95" fill="#dcdcdc"/>
<rect x="287.55" y="224.85" width="6.70" height="32.75" fill="#231f20"/>
<text x="290.70" y="263.90" font-size="5.4" text-anchor="middle" fill="#231f20" stroke="#231f20">DLD1</text>
<text x="290.70" y="268.60" font-size="5.4" text-anchor="middle" fill="#231f20" stroke="#231f20">parental</text>
<rect x="304.52" y="192.10" width="6.70" height="32.95" fill="#dcdcdc"/>
<rect x="304.52" y="224.85" width="6.70" height="32.75" fill="#231f20"/>
<text x="307.67" y="263.90" font-size="5.4" text-anchor="middle" fill="#231f20" stroke="#231f20">DLD1</text>
<text x="307.67" y="268.60" font-size="5.4" text-anchor="middle" fill="#231f20" stroke="#231f20">C12</text>
<rect x="321.49" y="192.10" width="6.70" height="63.08" fill="#dcdcdc"/>
<rect x="321.49" y="254.98" width="6.70" height="2.62" fill="#231f20"/>
<text x="324.64" y="263.90" font-size="5.4" text-anchor="middle" fill="#231f20" stroke="#231f20">DLD1</text>
<text x="324.64" y="268.60" font-size="5.4" text-anchor="middle" fill="#231f20" stroke="#231f20">C17</text>
<text x="324.84" y="191.50" font-size="7.4" text-anchor="middle" fill="#231f20" stroke="#231f20" font-weight="bold">***</text>
<rect x="338.46" y="192.10" width="6.70" height="3.48" fill="#dcdcdc"/>
<rect x="338.46" y="195.38" width="6.70" height="62.23" fill="#231f20"/>
<text x="341.61" y="263.90" font-size="5.4" text-anchor="middle" fill="#231f20" stroke="#231f20">C1</text>
<text x="341.81" y="191.50" font-size="7.4" text-anchor="middle" fill="#231f20" stroke="#231f20" font-weight="bold">***</text>
<rect x="355.43" y="192.10" width="6.70" height="65.50" fill="#231f20"/>
<text x="358.58" y="263.90" font-size="5.4" text-anchor="middle" fill="#231f20" stroke="#231f20">C2</text>
<text x="358.78" y="191.50" font-size="7.4" text-anchor="middle" fill="#231f20" stroke="#231f20" font-weight="bold">****</text>
<rect x="372.40" y="192.10" width="6.70" height="10.03" fill="#dcdcdc"/>
<rect x="372.40" y="201.93" width="6.70" height="55.68" fill="#231f20"/>
<text x="375.55" y="263.90" font-size="5.4" text-anchor="middle" fill="#231f20" stroke="#231f20">C10</text>
<text x="375.75" y="191.50" font-size="7.4" text-anchor="middle" fill="#231f20" stroke="#231f20" font-weight="bold">*</text>
<rect x="389.37" y="192.10" width="6.70" height="12.64" fill="#dcdcdc"/>
<rect x="389.37" y="204.55" width="6.70" height="53.05" fill="#231f20"/>
<text x="392.52" y="263.90" font-size="5.4" text-anchor="middle" fill="#231f20" stroke="#231f20">C11</text>
<text x="392.72" y="191.50" font-size="7.4" text-anchor="middle" fill="#231f20" stroke="#231f20" font-weight="bold">*</text>
<rect x="406.34" y="192.10" width="6.70" height="42.78" fill="#dcdcdc"/>
<rect x="406.34" y="234.68" width="6.70" height="22.93" fill="#231f20"/>
<text x="409.49" y="263.90" font-size="5.4" text-anchor="middle" fill="#231f20" stroke="#231f20">C13</text>
<rect x="423.31" y="192.10" width="6.70" height="10.03" fill="#dcdcdc"/>
<rect x="423.31" y="201.93" width="6.70" height="55.68" fill="#231f20"/>
<text x="426.46" y="263.90" font-size="5.4" text-anchor="middle" fill="#231f20" stroke="#231f20">C14</text>
<text x="426.66" y="191.50" font-size="7.4" text-anchor="middle" fill="#231f20" stroke="#231f20" font-weight="bold">*</text>
<rect x="440.28" y="192.10" width="6.70" height="65.50" fill="#231f20"/>
<text x="443.43" y="263.90" font-size="5.4" text-anchor="middle" fill="#231f20" stroke="#231f20">C15</text>
<text x="443.63" y="191.50" font-size="7.4" text-anchor="middle" fill="#231f20" stroke="#231f20" font-weight="bold">*</text>
<rect x="457.25" y="192.10" width="6.70" height="10.03" fill="#dcdcdc"/>
<rect x="457.25" y="201.93" width="6.70" height="55.68" fill="#231f20"/>
<text x="460.40" y="263.90" font-size="5.4" text-anchor="middle" fill="#231f20" stroke="#231f20">C16</text>
<rect x="474.22" y="192.10" width="6.70" height="13.30" fill="#dcdcdc"/>
<rect x="474.22" y="205.20" width="6.70" height="52.40" fill="#231f20"/>
<text x="477.37" y="263.90" font-size="5.4" text-anchor="middle" fill="#231f20" stroke="#231f20">C18</text>
<text x="477.57" y="191.50" font-size="7.4" text-anchor="middle" fill="#231f20" stroke="#231f20" font-weight="bold">***</text>
<rect x="491.19" y="192.10" width="6.70" height="16.57" fill="#dcdcdc"/>
<rect x="491.19" y="208.48" width="6.70" height="49.12" fill="#231f20"/>
<text x="494.34" y="263.90" font-size="5.4" text-anchor="middle" fill="#231f20" stroke="#231f20">C19</text>
<rect x="508.16" y="192.10" width="6.70" height="3.48" fill="#dcdcdc"/>
<rect x="508.16" y="195.38" width="6.70" height="62.23" fill="#231f20"/>
<text x="511.31" y="263.90" font-size="5.4" text-anchor="middle" fill="#231f20" stroke="#231f20">C21</text>
<text x="511.51" y="191.50" font-size="7.4" text-anchor="middle" fill="#231f20" stroke="#231f20" font-weight="bold">***</text>
<line x1="286.20" y1="274.50" x2="330.00" y2="274.50" stroke="#3a3a3a" stroke-width="0.9"/>
<text x="307.00" y="280.90" font-size="5.2" text-anchor="middle" fill="#231f20" stroke="#231f20">WGD<tspan font-size="3.38" dy="-1.46">−</tspan></text>
<line x1="337.70" y1="274.50" x2="514.00" y2="274.50" stroke="#3a3a3a" stroke-width="0.9"/>
<text x="423.40" y="281.60" font-size="5.2" text-anchor="middle" fill="#231f20" stroke="#231f20">WGD<tspan font-size="3.38" dy="-1.46">+</tspan></text>
<text x="135.30" y="298.20" font-size="5.9" text-anchor="middle" fill="#231f20" stroke="#231f20">WGD<tspan font-size="3.84" dy="-1.65">−</tspan></text>
<defs><filter id="bl" x="-5%" y="-5%" width="110%" height="110%"><feGaussianBlur stdDeviation="0.28"/></filter></defs>
<rect x="64.30" y="301.50" width="140.70" height="105.20" fill="#030303"/>
<g filter="url(#bl)">
<line x1="65.50" y1="317.60" x2="86.20" y2="317.60" stroke="#8a8a8a" stroke-width="0.6"/>
<path d="M73.45 305.80 L73.80 310.12 M73.80 310.92 L73.59 316.40" stroke="#2aa89a" stroke-width="1.6" stroke-linecap="round" fill="none"/>
<path d="M77.35 306.50 L77.00 310.51 M77.00 311.31 L77.21 316.40" stroke="#2aa89a" stroke-width="1.6" stroke-linecap="round" fill="none"/>
<text x="75.40" y="322.90" font-size="4.3" text-anchor="middle" fill="#f2f2f2" stroke="#f2f2f2" font-weight="bold">1</text>
<line x1="90.00" y1="317.60" x2="110.80" y2="317.60" stroke="#8a8a8a" stroke-width="0.6"/>
<path d="M97.05 307.40 L97.40 311.01 M97.40 311.81 L97.19 316.40" stroke="#3f55b5" stroke-width="1.6" stroke-linecap="round" fill="none"/>
<path d="M101.55 308.10 L101.20 311.41 M101.20 312.21 L101.41 316.40" stroke="#3f55b5" stroke-width="1.6" stroke-linecap="round" fill="none"/>
<text x="99.30" y="322.90" font-size="4.3" text-anchor="middle" fill="#f2f2f2" stroke="#f2f2f2" font-weight="bold">2</text>
<line x1="113.80" y1="317.60" x2="135.40" y2="317.60" stroke="#8a8a8a" stroke-width="0.6"/>
<path d="M121.45 310.40 L121.80 312.69 M121.80 313.49 L121.59 316.40" stroke="#9465b5" stroke-width="1.6" stroke-linecap="round" fill="none"/>
<path d="M126.15 311.10 L125.80 313.09 M125.80 313.89 L126.01 316.40" stroke="#9465b5" stroke-width="1.6" stroke-linecap="round" fill="none"/>
<text x="123.80" y="322.90" font-size="4.3" text-anchor="middle" fill="#f2f2f2" stroke="#f2f2f2" font-weight="bold">3</text>
<line x1="158.00" y1="317.60" x2="179.00" y2="317.60" stroke="#8a8a8a" stroke-width="0.6"/>
<path d="M166.25 310.60 L166.60 312.81 M166.60 313.61 L166.39 316.40" stroke="#5a58b8" stroke-width="1.6" stroke-linecap="round" fill="none"/>
<path d="M170.15 311.30 L169.80 313.20 M169.80 314.00 L170.01 316.40" stroke="#5a58b8" stroke-width="1.6" stroke-linecap="round" fill="none"/>
<text x="168.20" y="322.90" font-size="4.3" text-anchor="middle" fill="#f2f2f2" stroke="#f2f2f2" font-weight="bold">4</text>
<line x1="183.00" y1="317.60" x2="204.00" y2="317.60" stroke="#8a8a8a" stroke-width="0.6"/>
<path d="M190.25 311.00 L190.60 313.03 M190.60 313.83 L190.39 316.40" stroke="#6a5cc0" stroke-width="1.6" stroke-linecap="round" fill="none"/>
<path d="M194.55 311.70 L194.20 313.42 M194.20 314.22 L194.41 316.40" stroke="#9a8ad0" stroke-width="1.6" stroke-linecap="round" fill="none"/>
<text x="192.40" y="322.90" font-size="4.3" text-anchor="middle" fill="#f2f2f2" stroke="#f2f2f2" font-weight="bold">5</text>
<line x1="65.00" y1="344.60" x2="83.00" y2="344.60" stroke="#8a8a8a" stroke-width="0.6"/>
<path d="M71.65 338.40 L72.00 340.25 M72.00 341.05 L71.79 343.40" stroke="#3393c4" stroke-width="1.6" stroke-linecap="round" fill="none"/>
<path d="M75.35 339.10 L75.00 340.65 M75.00 341.45 L75.21 343.40" stroke="#3393c4" stroke-width="1.6" stroke-linecap="round" fill="none"/>
<text x="73.50" y="349.90" font-size="4.3" text-anchor="middle" fill="#f2f2f2" stroke="#f2f2f2" font-weight="bold">6</text>
<line x1="85.40" y1="344.60" x2="102.30" y2="344.60" stroke="#8a8a8a" stroke-width="0.6"/>
<path d="M91.25 338.80 L91.60 340.48 M91.60 341.28 L91.39 343.40" stroke="#32b3c3" stroke-width="1.6" stroke-linecap="round" fill="none"/>
<path d="M95.35 339.50 L95.00 340.87 M95.00 341.67 L95.21 343.40" stroke="#32b3c3" stroke-width="1.6" stroke-linecap="round" fill="none"/>
<text x="93.30" y="349.90" font-size="4.3" text-anchor="middle" fill="#f2f2f2" stroke="#f2f2f2" font-weight="bold">7</text>
<line x1="105.40" y1="344.60" x2="122.30" y2="344.60" stroke="#8a8a8a" stroke-width="0.6"/>
<path d="M111.85 339.20 L112.20 340.70 M112.20 341.50 L111.99 343.40" stroke="#8a97d8" stroke-width="1.6" stroke-linecap="round" fill="none"/>
<path d="M115.35 339.90 L115.00 341.09 M115.00 341.89 L115.21 343.40" stroke="#8a97d8" stroke-width="1.6" stroke-linecap="round" fill="none"/>
<text x="113.60" y="349.90" font-size="4.3" text-anchor="middle" fill="#f2f2f2" stroke="#f2f2f2" font-weight="bold">8</text>
<line x1="125.40" y1="344.60" x2="142.30" y2="344.60" stroke="#8a8a8a" stroke-width="0.6"/>
<path d="M131.25 339.20 L131.60 340.70 M131.60 341.50 L131.39 343.40" stroke="#3a86d6" stroke-width="1.6" stroke-linecap="round" fill="none"/>
<path d="M135.35 339.90 L135.00 341.09 M135.00 341.89 L135.21 343.40" stroke="#3a86d6" stroke-width="1.6" stroke-linecap="round" fill="none"/>
<text x="133.30" y="349.90" font-size="4.3" text-anchor="middle" fill="#f2f2f2" stroke="#f2f2f2" font-weight="bold">9</text>
<line x1="146.00" y1="344.60" x2="163.00" y2="344.60" stroke="#8a8a8a" stroke-width="0.6"/>
<path d="M152.15 339.40 L152.50 340.81 M152.50 341.61 L152.29 343.40" stroke="#5656b4" stroke-width="1.6" stroke-linecap="round" fill="none"/>
<path d="M155.85 340.10 L155.50 341.21 M155.50 342.01 L155.71 343.40" stroke="#5656b4" stroke-width="1.6" stroke-linecap="round" fill="none"/>
<text x="154.00" y="349.90" font-size="4.3" text-anchor="middle" fill="#f2f2f2" stroke="#f2f2f2" font-weight="bold">10</text>
<line x1="166.00" y1="344.60" x2="183.40" y2="344.60" stroke="#8a8a8a" stroke-width="0.6"/>
<path d="M172.55 339.40 L172.90 340.81 M172.90 341.61 L172.69 343.40" stroke="#5a52b6" stroke-width="1.6" stroke-linecap="round" fill="none"/>
<path d="M176.25 340.10 L175.90 341.21 M175.90 342.01 L176.11 343.40" stroke="#5a52b6" stroke-width="1.6" stroke-linecap="round" fill="none"/>
<text x="174.40" y="349.90" font-size="4.3" text-anchor="middle" fill="#f2f2f2" stroke="#f2f2f2" font-weight="bold">11</text>
<line x1="186.40" y1="344.60" x2="204.60" y2="344.60" stroke="#8a8a8a" stroke-width="0.6"/>
<path d="M193.15 339.40 L193.50 340.81 M193.50 341.61 L193.29 343.40" stroke="#4a50b8" stroke-width="1.6" stroke-linecap="round" fill="none"/>
<path d="M196.85 340.10 L196.50 341.21 M196.50 342.01 L196.71 343.40" stroke="#4a50b8" stroke-width="1.6" stroke-linecap="round" fill="none"/>
<text x="195.00" y="349.90" font-size="4.3" text-anchor="middle" fill="#f2f2f2" stroke="#f2f2f2" font-weight="bold">12</text>
<line x1="65.00" y1="369.40" x2="83.00" y2="369.40" stroke="#8a8a8a" stroke-width="0.6"/>
<path d="M71.65 365.60 L72.00 366.40 M72.00 367.20 L71.79 368.20" stroke="#9455c4" stroke-width="1.6" stroke-linecap="round" fill="none"/>
<path d="M75.35 365.60 L75.00 366.40 M75.00 367.20 L75.21 368.20" stroke="#9455c4" stroke-width="1.6" stroke-linecap="round" fill="none"/>
<text x="73.50" y="374.70" font-size="4.3" text-anchor="middle" fill="#f2f2f2" stroke="#f2f2f2" font-weight="bold">13</text>
<line x1="85.40" y1="369.40" x2="102.30" y2="369.40" stroke="#8a8a8a" stroke-width="0.6"/>
<path d="M91.35 365.60 L91.70 366.40 M91.70 367.20 L91.49 368.20" stroke="#5552c2" stroke-width="1.6" stroke-linecap="round" fill="none"/>
<path d="M95.25 365.60 L94.90 366.40 M94.90 367.20 L95.11 368.20" stroke="#5552c2" stroke-width="1.6" stroke-linecap="round" fill="none"/>
<text x="93.30" y="374.70" font-size="4.3" text-anchor="middle" fill="#f2f2f2" stroke="#f2f2f2" font-weight="bold">14</text>
<line x1="105.40" y1="369.40" x2="122.30" y2="369.40" stroke="#8a8a8a" stroke-width="0.6"/>
<path d="M111.75 366.20 L112.10 366.73 M112.10 367.53 L111.89 368.20" stroke="#d444a4" stroke-width="1.6" stroke-linecap="round" fill="none"/>
<path d="M115.05 366.20 L114.70 366.73 M114.70 367.53 L114.91 368.20" stroke="#e8e0f0" stroke-width="1.6" stroke-linecap="round" fill="none"/>
<text x="113.40" y="374.70" font-size="4.3" text-anchor="middle" fill="#f2f2f2" stroke="#f2f2f2" font-weight="bold">15</text>
<line x1="145.80" y1="369.40" x2="162.70" y2="369.40" stroke="#8a8a8a" stroke-width="0.6"/>
<path d="M152.35 365.80 L152.70 366.51 M152.70 367.31 L152.49 368.20" stroke="#34a4a4" stroke-width="1.6" stroke-linecap="round" fill="none"/>
<path d="M156.05 365.80 L155.70 366.51 M155.70 367.31 L155.91 368.20" stroke="#3c8cb4" stroke-width="1.6" stroke-linecap="round" fill="none"/>
<text x="154.20" y="374.70" font-size="4.3" text-anchor="middle" fill="#f2f2f2" stroke="#f2f2f2" font-weight="bold">16</text>
<line x1="166.50" y1="369.40" x2="183.50" y2="369.40" stroke="#8a8a8a" stroke-width="0.6"/>
<rect x="172.40" y="366.00" width="1.60" height="3.00" fill="#d8d8e8" rx="0.5"/>
<rect x="175.00" y="366.00" width="1.60" height="3.00" fill="#d8d8e8" rx="0.5"/>
<text x="174.50" y="374.70" font-size="4.3" text-anchor="middle" fill="#f2f2f2" stroke="#f2f2f2" font-weight="bold">17</text>
<line x1="186.50" y1="369.40" x2="204.60" y2="369.40" stroke="#8a8a8a" stroke-width="0.6"/>
<path d="M192.85 366.40 L193.20 366.85 M193.20 367.65 L192.99 368.20" stroke="#4492c4" stroke-width="1.6" stroke-linecap="round" fill="none"/>
<path d="M196.15 366.40 L195.80 366.85 M195.80 367.65 L196.01 368.20" stroke="#4492c4" stroke-width="1.6" stroke-linecap="round" fill="none"/>
<text x="194.50" y="374.70" font-size="4.3" text-anchor="middle" fill="#f2f2f2" stroke="#f2f2f2" font-weight="bold">18</text>
<line x1="65.00" y1="397.20" x2="83.00" y2="397.20" stroke="#8a8a8a" stroke-width="0.6"/>
<rect x="72.55" y="394.80" width="1.30" height="2.00" fill="#e0e0f0" rx="0.5"/>
<rect x="75.15" y="394.80" width="1.30" height="2.00" fill="#e0e0f0" rx="0.5"/>
<text x="74.50" y="402.50" font-size="4.3" text-anchor="middle" fill="#f2f2f2" stroke="#f2f2f2" font-weight="bold">19</text>
<line x1="85.40" y1="397.20" x2="102.30" y2="397.20" stroke="#8a8a8a" stroke-width="0.6"/>
<path d="M92.45 394.20 L92.80 394.65 M92.80 395.45 L92.59 396.00" stroke="#34b4b4" stroke-width="1.6" stroke-linecap="round" fill="none"/>
<path d="M95.15 394.20 L94.80 394.65 M94.80 395.45 L95.01 396.00" stroke="#34b4b4" stroke-width="1.6" stroke-linecap="round" fill="none"/>
<text x="93.80" y="402.50" font-size="4.3" text-anchor="middle" fill="#f2f2f2" stroke="#f2f2f2" font-weight="bold">20</text>
<line x1="115.00" y1="397.20" x2="133.00" y2="397.20" stroke="#8a8a8a" stroke-width="0.6"/>
<rect x="122.00" y="395.00" width="1.20" height="1.80" fill="#e8e8f0" rx="0.5"/>
<rect x="124.40" y="395.00" width="1.20" height="1.80" fill="#e8e8f0" rx="0.5"/>
<text x="123.80" y="402.50" font-size="4.3" text-anchor="middle" fill="#f2f2f2" stroke="#f2f2f2" font-weight="bold">21</text>
<line x1="135.00" y1="397.20" x2="153.50" y2="397.20" stroke="#8a8a8a" stroke-width="0.6"/>
<rect x="142.30" y="395.20" width="1.20" height="1.60" fill="#d06080" rx="0.5"/>
<rect x="144.50" y="395.20" width="1.20" height="1.60" fill="#d06080" rx="0.5"/>
<text x="144.00" y="402.50" font-size="4.3" text-anchor="middle" fill="#f2f2f2" stroke="#f2f2f2" font-weight="bold">22</text>
<line x1="166.00" y1="397.20" x2="183.50" y2="397.20" stroke="#8a8a8a" stroke-width="0.6"/>
<path d="M173.45 392.50 L173.80 393.75 M173.80 394.55 L173.59 396.10" stroke="#6262c4" stroke-width="1.4" stroke-linecap="round" fill="none"/>
<path d="M174.95 392.50 L174.60 393.75 M174.60 394.55 L174.81 396.10" stroke="#6262c4" stroke-width="1.4" stroke-linecap="round" fill="none"/>
<text x="174.20" y="402.50" font-size="4.3" text-anchor="middle" fill="#f2f2f2" stroke="#f2f2f2" font-weight="bold">X</text>
<line x1="186.00" y1="397.20" x2="204.60" y2="397.20" stroke="#8a8a8a" stroke-width="0.6"/>
<rect x="193.30" y="394.40" width="1.20" height="2.40" fill="#6464b4" rx="0.5"/>
<rect x="193.90" y="394.40" width="1.20" height="2.40" fill="#6464b4" rx="0.5"/>
<text x="194.20" y="402.50" font-size="4.3" text-anchor="middle" fill="#f2f2f2" stroke="#f2f2f2" font-weight="bold">Y</text>
</g>
<text x="394.50" y="298.30" font-size="5.9" text-anchor="middle" fill="#231f20" stroke="#231f20">WGD<tspan font-size="3.84" dy="-1.65">+</tspan></text>
<rect x="327.20" y="300.70" width="134.70" height="105.80" fill="#1a1a1a"/>
<rect x="328.20" y="301.70" width="132.70" height="103.80" fill="#262425"/>
<g filter="url(#bl)">
<line x1="330.20" y1="322.30" x2="348.60" y2="322.30" stroke="#474545" stroke-width="0.6"/>
<rect x="333.20" y="314.20" width="1.85" height="6.60" fill="#d8c83a" rx="0.5"/>
<rect x="333.10" y="316.97" width="2.05" height="0.55" fill="#262626" opacity="0.75"/>
<rect x="336.72" y="314.86" width="1.85" height="5.94" fill="#d8c83a" rx="0.5"/>
<rect x="336.62" y="317.35" width="2.05" height="0.55" fill="#262626" opacity="0.75"/>
<rect x="340.23" y="315.52" width="1.85" height="5.28" fill="#d8c83a" rx="0.5"/>
<rect x="340.13" y="317.74" width="2.05" height="0.55" fill="#262626" opacity="0.75"/>
<rect x="343.75" y="314.20" width="1.85" height="6.60" fill="#d8c83a" rx="0.5"/>
<rect x="343.65" y="316.97" width="2.05" height="0.55" fill="#262626" opacity="0.75"/>
<text x="339.40" y="326.00" font-size="2.5" text-anchor="middle" fill="#a8a8a8" stroke="#a8a8a8" font-weight="bold">1</text>
<line x1="352.80" y1="322.30" x2="371.40" y2="322.30" stroke="#474545" stroke-width="0.6"/>
<rect x="355.80" y="313.40" width="1.88" height="7.40" fill="#1fc0c8" rx="0.5"/>
<rect x="355.70" y="316.51" width="2.08" height="0.55" fill="#262626" opacity="0.75"/>
<rect x="359.37" y="314.14" width="1.88" height="6.66" fill="#1fc0c8" rx="0.5"/>
<rect x="359.27" y="316.94" width="2.08" height="0.55" fill="#262626" opacity="0.75"/>
<rect x="362.95" y="314.88" width="1.88" height="5.92" fill="#1fc0c8" rx="0.5"/>
<rect x="362.85" y="317.37" width="2.08" height="0.55" fill="#262626" opacity="0.75"/>
<rect x="366.52" y="313.40" width="1.88" height="7.40" fill="#1fc0c8" rx="0.5"/>
<rect x="366.42" y="316.51" width="2.08" height="0.55" fill="#262626" opacity="0.75"/>
<text x="362.10" y="326.00" font-size="2.5" text-anchor="middle" fill="#a8a8a8" stroke="#a8a8a8" font-weight="bold">2</text>
<line x1="375.20" y1="322.30" x2="394.80" y2="322.30" stroke="#474545" stroke-width="0.6"/>
<rect x="378.20" y="315.20" width="2.03" height="5.60" fill="#b43cc0" rx="0.5"/>
<rect x="378.10" y="317.55" width="2.23" height="0.55" fill="#262626" opacity="0.75"/>
<rect x="382.06" y="315.76" width="2.03" height="5.04" fill="#b43cc0" rx="0.5"/>
<rect x="381.96" y="317.88" width="2.23" height="0.55" fill="#262626" opacity="0.75"/>
<rect x="385.91" y="316.32" width="2.03" height="4.48" fill="#b43cc0" rx="0.5"/>
<rect x="385.81" y="318.20" width="2.23" height="0.55" fill="#262626" opacity="0.75"/>
<rect x="389.77" y="315.20" width="2.03" height="5.60" fill="#b43cc0" rx="0.5"/>
<rect x="389.67" y="317.55" width="2.23" height="0.55" fill="#262626" opacity="0.75"/>
<text x="385.00" y="326.00" font-size="2.5" text-anchor="middle" fill="#a8a8a8" stroke="#a8a8a8" font-weight="bold">3</text>
<line x1="416.60" y1="322.30" x2="435.00" y2="322.30" stroke="#474545" stroke-width="0.6"/>
<rect x="419.60" y="315.60" width="1.85" height="5.40" fill="#3ecf4e" rx="0.5"/>
<rect x="419.50" y="317.87" width="2.05" height="0.55" fill="#262626" opacity="0.75"/>
<rect x="423.12" y="316.14" width="1.85" height="4.86" fill="#3ecf4e" rx="0.5"/>
<rect x="423.02" y="318.18" width="2.05" height="0.55" fill="#262626" opacity="0.75"/>
<rect x="426.63" y="316.68" width="1.85" height="4.32" fill="#3ecf4e" rx="0.5"/>
<rect x="426.53" y="318.49" width="2.05" height="0.55" fill="#262626" opacity="0.75"/>
<rect x="430.15" y="315.60" width="1.85" height="5.40" fill="#3ecf4e" rx="0.5"/>
<rect x="430.05" y="317.87" width="2.05" height="0.55" fill="#262626" opacity="0.75"/>
<text x="425.80" y="326.00" font-size="2.5" text-anchor="middle" fill="#a8a8a8" stroke="#a8a8a8" font-weight="bold">4</text>
<line x1="438.00" y1="322.30" x2="457.20" y2="322.30" stroke="#474545" stroke-width="0.6"/>
<rect x="441.00" y="316.40" width="1.97" height="4.60" fill="#e0305c" rx="0.5"/>
<rect x="440.90" y="318.33" width="2.17" height="0.55" fill="#262626" opacity="0.75"/>
<rect x="444.74" y="316.86" width="1.97" height="4.14" fill="#e0305c" rx="0.5"/>
<rect x="444.64" y="318.60" width="2.17" height="0.55" fill="#262626" opacity="0.75"/>
<rect x="448.49" y="317.32" width="1.97" height="3.68" fill="#e0305c" rx="0.5"/>
<rect x="448.39" y="318.87" width="2.17" height="0.55" fill="#262626" opacity="0.75"/>
<rect x="452.23" y="316.40" width="1.97" height="4.60" fill="#e0305c" rx="0.5"/>
<rect x="452.13" y="318.33" width="2.17" height="0.55" fill="#262626" opacity="0.75"/>
<text x="447.60" y="326.00" font-size="2.5" text-anchor="middle" fill="#a8a8a8" stroke="#a8a8a8" font-weight="bold">5</text>
<line x1="329.00" y1="347.80" x2="346.80" y2="347.80" stroke="#474545" stroke-width="0.6"/>
<rect x="332.00" y="342.60" width="1.76" height="4.40" fill="#d8d04a" rx="0.5"/>
<rect x="331.90" y="344.45" width="1.96" height="0.55" fill="#262626" opacity="0.75"/>
<rect x="335.35" y="343.04" width="1.76" height="3.96" fill="#d8d04a" rx="0.5"/>
<rect x="335.25" y="344.70" width="1.96" height="0.55" fill="#262626" opacity="0.75"/>
<rect x="338.69" y="343.48" width="1.76" height="3.52" fill="#d8d04a" rx="0.5"/>
<rect x="338.59" y="344.96" width="1.96" height="0.55" fill="#262626" opacity="0.75"/>
<rect x="342.04" y="342.60" width="1.76" height="4.40" fill="#d8d04a" rx="0.5"/>
<rect x="341.94" y="344.45" width="1.96" height="0.55" fill="#262626" opacity="0.75"/>
<text x="337.90" y="351.40" font-size="2.5" text-anchor="middle" fill="#a8a8a8" stroke="#a8a8a8" font-weight="bold">6</text>
<line x1="347.40" y1="347.80" x2="365.20" y2="347.80" stroke="#474545" stroke-width="0.6"/>
<rect x="350.40" y="343.20" width="1.76" height="3.80" fill="#9a6a5c" rx="0.5"/>
<rect x="350.30" y="344.80" width="1.96" height="0.55" fill="#262626" opacity="0.75"/>
<rect x="353.75" y="343.58" width="1.76" height="3.42" fill="#9a6a5c" rx="0.5"/>
<rect x="353.65" y="345.02" width="1.96" height="0.55" fill="#262626" opacity="0.75"/>
<rect x="357.09" y="343.96" width="1.76" height="3.04" fill="#9a6a5c" rx="0.5"/>
<rect x="360.44" y="343.20" width="1.76" height="3.80" fill="#9a6a5c" rx="0.5"/>
<rect x="360.34" y="344.80" width="1.96" height="0.55" fill="#262626" opacity="0.75"/>
<text x="356.30" y="351.40" font-size="2.5" text-anchor="middle" fill="#a8a8a8" stroke="#a8a8a8" font-weight="bold">7</text>
<line x1="365.80" y1="347.80" x2="383.40" y2="347.80" stroke="#474545" stroke-width="0.6"/>
<rect x="368.80" y="343.20" width="1.73" height="3.80" fill="#de6c8e" rx="0.5"/>
<rect x="368.70" y="344.80" width="1.93" height="0.55" fill="#262626" opacity="0.75"/>
<rect x="372.09" y="343.58" width="1.73" height="3.42" fill="#de6c8e" rx="0.5"/>
<rect x="371.99" y="345.02" width="1.93" height="0.55" fill="#262626" opacity="0.75"/>
<rect x="375.38" y="343.96" width="1.73" height="3.04" fill="#de6c8e" rx="0.5"/>
<rect x="378.67" y="343.20" width="1.73" height="3.80" fill="#de6c8e" rx="0.5"/>
<rect x="378.57" y="344.80" width="1.93" height="0.55" fill="#262626" opacity="0.75"/>
<text x="374.60" y="351.40" font-size="2.5" text-anchor="middle" fill="#a8a8a8" stroke="#a8a8a8" font-weight="bold">8</text>
<line x1="384.80" y1="347.80" x2="402.60" y2="347.80" stroke="#474545" stroke-width="0.6"/>
<rect x="387.80" y="343.60" width="1.76" height="3.40" fill="#3cc43c" rx="0.5"/>
<rect x="391.15" y="343.94" width="1.76" height="3.06" fill="#3cc43c" rx="0.5"/>
<rect x="394.49" y="344.28" width="1.76" height="2.72" fill="#3cc43c" rx="0.5"/>
<rect x="397.84" y="343.60" width="1.76" height="3.40" fill="#3cc43c" rx="0.5"/>
<text x="393.70" y="351.40" font-size="2.5" text-anchor="middle" fill="#a8a8a8" stroke="#a8a8a8" font-weight="bold">9</text>
<line x1="404.00" y1="347.80" x2="421.40" y2="347.80" stroke="#474545" stroke-width="0.6"/>
<rect x="407.00" y="343.40" width="1.70" height="3.60" fill="#bcbc50" rx="0.5"/>
<rect x="406.90" y="344.91" width="1.90" height="0.55" fill="#262626" opacity="0.75"/>
<rect x="410.23" y="343.76" width="1.70" height="3.24" fill="#bcbc50" rx="0.5"/>
<rect x="413.47" y="344.12" width="1.70" height="2.88" fill="#bcbc50" rx="0.5"/>
<rect x="416.70" y="343.40" width="1.70" height="3.60" fill="#bcbc50" rx="0.5"/>
<rect x="416.60" y="344.91" width="1.90" height="0.55" fill="#262626" opacity="0.75"/>
<text x="412.70" y="351.40" font-size="2.5" text-anchor="middle" fill="#a8a8a8" stroke="#a8a8a8" font-weight="bold">10</text>
<line x1="422.80" y1="347.80" x2="439.80" y2="347.80" stroke="#474545" stroke-width="0.6"/>
<rect x="425.80" y="343.40" width="1.64" height="3.60" fill="#c03c9c" rx="0.5"/>
<rect x="425.70" y="344.91" width="1.84" height="0.55" fill="#262626" opacity="0.75"/>
<rect x="428.92" y="343.76" width="1.64" height="3.24" fill="#c03c9c" rx="0.5"/>
<rect x="432.04" y="344.12" width="1.64" height="2.88" fill="#c03c9c" rx="0.5"/>
<rect x="435.16" y="343.40" width="1.64" height="3.60" fill="#c03c9c" rx="0.5"/>
<rect x="435.06" y="344.91" width="1.84" height="0.55" fill="#262626" opacity="0.75"/>
<text x="431.30" y="351.40" font-size="2.5" text-anchor="middle" fill="#a8a8a8" stroke="#a8a8a8" font-weight="bold">11</text>
<line x1="441.50" y1="347.80" x2="459.50" y2="347.80" stroke="#474545" stroke-width="0.6"/>
<rect x="444.50" y="343.00" width="1.79" height="4.00" fill="#1ec486" rx="0.5"/>
<rect x="444.40" y="344.68" width="1.99" height="0.55" fill="#262626" opacity="0.75"/>
<rect x="447.90" y="343.40" width="1.79" height="3.60" fill="#1ec486" rx="0.5"/>
<rect x="447.80" y="344.91" width="1.99" height="0.55" fill="#262626" opacity="0.75"/>
<rect x="451.31" y="343.80" width="1.79" height="3.20" fill="#1ec486" rx="0.5"/>
<rect x="454.71" y="343.00" width="1.79" height="4.00" fill="#1ec486" rx="0.5"/>
<rect x="454.61" y="344.68" width="1.99" height="0.55" fill="#262626" opacity="0.75"/>
<text x="450.50" y="351.40" font-size="2.5" text-anchor="middle" fill="#a8a8a8" stroke="#a8a8a8" font-weight="bold">12</text>
<line x1="329.00" y1="369.80" x2="346.80" y2="369.80" stroke="#474545" stroke-width="0.6"/>
<rect x="332.00" y="366.00" width="1.76" height="3.00" fill="#f4f4f4" rx="0.5"/>
<rect x="335.35" y="366.30" width="1.76" height="2.70" fill="#f4f4f4" rx="0.5"/>
<rect x="338.69" y="366.60" width="1.76" height="2.40" fill="#f4f4f4" rx="0.5"/>
<rect x="342.04" y="366.00" width="1.76" height="3.00" fill="#f4f4f4" rx="0.5"/>
<text x="337.90" y="373.40" font-size="2.5" text-anchor="middle" fill="#a8a8a8" stroke="#a8a8a8" font-weight="bold">13</text>
<line x1="347.40" y1="369.80" x2="365.00" y2="369.80" stroke="#474545" stroke-width="0.6"/>
<rect x="350.40" y="366.40" width="1.73" height="2.60" fill="#3050c4" rx="0.5"/>
<rect x="353.69" y="366.66" width="1.73" height="2.34" fill="#3050c4" rx="0.5"/>
<rect x="356.98" y="366.92" width="1.73" height="2.08" fill="#3050c4" rx="0.5"/>
<rect x="360.27" y="366.40" width="1.73" height="2.60" fill="#3050c4" rx="0.5"/>
<text x="356.20" y="373.40" font-size="2.5" text-anchor="middle" fill="#a8a8a8" stroke="#a8a8a8" font-weight="bold">14</text>
<line x1="366.60" y1="369.80" x2="385.20" y2="369.80" stroke="#474545" stroke-width="0.6"/>
<rect x="369.60" y="366.40" width="1.88" height="2.60" fill="#c42464" rx="0.5"/>
<rect x="373.17" y="366.66" width="1.88" height="2.34" fill="#c42464" rx="0.5"/>
<rect x="376.75" y="366.92" width="1.88" height="2.08" fill="#c42464" rx="0.5"/>
<rect x="380.32" y="366.40" width="1.88" height="2.60" fill="#c42464" rx="0.5"/>
<text x="375.90" y="373.40" font-size="2.5" text-anchor="middle" fill="#a8a8a8" stroke="#a8a8a8" font-weight="bold">15</text>
<line x1="404.60" y1="369.80" x2="421.00" y2="369.80" stroke="#474545" stroke-width="0.6"/>
<rect x="407.60" y="366.60" width="1.55" height="2.40" fill="#e4c440" rx="0.5"/>
<rect x="410.55" y="366.84" width="1.55" height="2.16" fill="#e4c440" rx="0.5"/>
<rect x="413.50" y="367.08" width="1.55" height="1.92" fill="#e4c440" rx="0.5"/>
<rect x="416.45" y="366.60" width="1.55" height="2.40" fill="#e4c440" rx="0.5"/>
<text x="412.80" y="373.40" font-size="2.5" text-anchor="middle" fill="#a8a8a8" stroke="#a8a8a8" font-weight="bold">16</text>
<line x1="423.50" y1="369.80" x2="439.20" y2="369.80" stroke="#474545" stroke-width="0.6"/>
<rect x="426.50" y="366.80" width="1.45" height="2.20" fill="#c040c0" rx="0.5"/>
<rect x="429.25" y="367.02" width="1.45" height="1.98" fill="#c040c0" rx="0.5"/>
<rect x="432.00" y="367.24" width="1.45" height="1.76" fill="#c040c0" rx="0.5"/>
<rect x="434.75" y="366.80" width="1.45" height="2.20" fill="#c040c0" rx="0.5"/>
<text x="431.35" y="373.40" font-size="2.5" text-anchor="middle" fill="#a8a8a8" stroke="#a8a8a8" font-weight="bold">17</text>
<line x1="442.00" y1="369.80" x2="458.00" y2="369.80" stroke="#474545" stroke-width="0.6"/>
<rect x="445.00" y="366.80" width="1.49" height="2.20" fill="#7444c4" rx="0.5"/>
<rect x="447.84" y="367.02" width="1.49" height="1.98" fill="#7444c4" rx="0.5"/>
<rect x="450.67" y="367.24" width="1.49" height="1.76" fill="#7444c4" rx="0.5"/>
<rect x="453.51" y="366.80" width="1.49" height="2.20" fill="#7444c4" rx="0.5"/>
<text x="450.00" y="373.40" font-size="2.5" text-anchor="middle" fill="#a8a8a8" stroke="#a8a8a8" font-weight="bold">18</text>
<line x1="330.00" y1="395.40" x2="345.00" y2="395.40" stroke="#474545" stroke-width="0.6"/>
<rect x="333.00" y="392.80" width="1.34" height="2.00" fill="#c4a4b4" rx="0.5"/>
<rect x="335.55" y="393.00" width="1.34" height="1.80" fill="#c4a4b4" rx="0.5"/>
<rect x="338.10" y="393.20" width="1.34" height="1.60" fill="#c4a4b4" rx="0.5"/>
<rect x="340.66" y="392.80" width="1.34" height="2.00" fill="#c4a4b4" rx="0.5"/>
<text x="337.50" y="399.00" font-size="2.5" text-anchor="middle" fill="#a8a8a8" stroke="#a8a8a8" font-weight="bold">19</text>
<line x1="349.00" y1="395.40" x2="364.20" y2="395.40" stroke="#474545" stroke-width="0.6"/>
<rect x="352.00" y="392.80" width="1.37" height="2.00" fill="#d4c484" rx="0.5"/>
<rect x="354.61" y="393.00" width="1.37" height="1.80" fill="#d4c484" rx="0.5"/>
<rect x="357.22" y="393.20" width="1.37" height="1.60" fill="#d4c484" rx="0.5"/>
<rect x="359.83" y="392.80" width="1.37" height="2.00" fill="#d4c484" rx="0.5"/>
<text x="356.60" y="399.00" font-size="2.5" text-anchor="middle" fill="#a8a8a8" stroke="#a8a8a8" font-weight="bold">20</text>
<line x1="377.00" y1="395.40" x2="391.80" y2="395.40" stroke="#474545" stroke-width="0.6"/>
<rect x="380.00" y="392.80" width="1.31" height="2.00" fill="#b4b4c4" rx="0.5"/>
<rect x="382.50" y="393.00" width="1.31" height="1.80" fill="#b4b4c4" rx="0.5"/>
<rect x="384.99" y="393.20" width="1.31" height="1.60" fill="#b4b4c4" rx="0.5"/>
<rect x="387.49" y="392.80" width="1.31" height="2.00" fill="#b4b4c4" rx="0.5"/>
<text x="384.40" y="399.00" font-size="2.5" text-anchor="middle" fill="#a8a8a8" stroke="#a8a8a8" font-weight="bold">21</text>
<line x1="395.60" y1="395.40" x2="411.00" y2="395.40" stroke="#474545" stroke-width="0.6"/>
<rect x="398.60" y="393.00" width="1.40" height="1.80" fill="#c42444" rx="0.5"/>
<rect x="401.27" y="393.18" width="1.40" height="1.62" fill="#c42444" rx="0.5"/>
<rect x="403.93" y="393.36" width="1.40" height="1.44" fill="#c42444" rx="0.5"/>
<rect x="406.60" y="393.00" width="1.40" height="1.80" fill="#c42444" rx="0.5"/>
<text x="403.30" y="399.00" font-size="2.5" text-anchor="middle" fill="#a8a8a8" stroke="#a8a8a8" font-weight="bold">22</text>
<line x1="425.80" y1="395.40" x2="437.20" y2="395.40" stroke="#474545" stroke-width="0.6"/>
<rect x="428.80" y="389.00" width="1.86" height="5.80" fill="#3464d4" rx="0.5"/>
<rect x="428.70" y="391.44" width="2.06" height="0.55" fill="#262626" opacity="0.75"/>
<rect x="432.34" y="389.58" width="1.86" height="5.22" fill="#3464d4" rx="0.5"/>
<rect x="432.24" y="391.77" width="2.06" height="0.55" fill="#262626" opacity="0.75"/>
<text x="431.50" y="399.00" font-size="2.5" text-anchor="middle" fill="#a8a8a8" stroke="#a8a8a8" font-weight="bold">X</text>
<line x1="445.00" y1="395.40" x2="455.20" y2="395.40" stroke="#474545" stroke-width="0.6"/>
<rect x="448.00" y="393.00" width="1.45" height="1.80" fill="#5a8ae0" rx="0.5"/>
<rect x="450.75" y="393.18" width="1.45" height="1.62" fill="#5a8ae0" rx="0.5"/>
<text x="450.10" y="399.00" font-size="2.5" text-anchor="middle" fill="#a8a8a8" stroke="#a8a8a8" font-weight="bold">Y</text>
</g>
<line x1="35.00" y1="511.80" x2="238.00" y2="511.80" stroke="#a6a6a6" stroke-width="0.7"/>
<text x="26.20" y="514.00" font-size="6.1" text-anchor="end" fill="#4a4a4a" stroke="#4a4a4a">0</text>
<text x="26.20" y="494.50" font-size="6.1" text-anchor="end" fill="#4a4a4a" stroke="#4a4a4a">0.2</text>
<text x="26.20" y="475.00" font-size="6.1" text-anchor="end" fill="#4a4a4a" stroke="#4a4a4a">0.4</text>
<text x="26.20" y="455.50" font-size="6.1" text-anchor="end" fill="#4a4a4a" stroke="#4a4a4a">0.6</text>
<text x="26.20" y="436.00" font-size="6.1" text-anchor="end" fill="#4a4a4a" stroke="#4a4a4a">0.8</text>
<text x="12.00" y="471.50" font-size="6.4" text-anchor="middle" fill="#4a4a4a" stroke="#4a4a4a" transform="rotate(-90 12.00 471.50)">Fraction of cells</text>
<text x="135.00" y="421.50" font-size="5.8" text-anchor="middle" fill="#231f20" stroke="#231f20">WGD<tspan font-size="3.77" dy="-1.62">−</tspan></text>
<rect x="35.60" y="431.60" width="3.80" height="3.80" fill="#fbe3d6"/>
<text x="42.00" y="435.70" font-size="6.4" text-anchor="start" fill="#4a4a4a" stroke="#4a4a4a">Day 0</text>
<rect x="67.40" y="431.40" width="4.20" height="4.20" fill="#b5182b"/>
<text x="74.00" y="435.70" font-size="6.3" text-anchor="start" fill="#4a4a4a" stroke="#4a4a4a">Day 12</text>
<text x="55.00" y="445.50" font-size="6.3" text-anchor="start" fill="#4a4a4a" stroke="#4a4a4a"><tspan font-style="italic">P</tspan> = 0.7</text>
<text x="45.00" y="521.10" font-size="6.0" text-anchor="middle" fill="#4a4a4a" stroke="#4a4a4a">&lt;43</text>
<text x="70.50" y="521.10" font-size="6.0" text-anchor="middle" fill="#4a4a4a" stroke="#4a4a4a">43</text>
<text x="96.30" y="521.10" font-size="6.0" text-anchor="middle" fill="#4a4a4a" stroke="#4a4a4a">44</text>
<text x="123.00" y="521.10" font-size="6.0" text-anchor="middle" fill="#4a4a4a" stroke="#4a4a4a">45</text>
<text x="150.00" y="521.10" font-size="6.0" text-anchor="middle" fill="#4a4a4a" stroke="#4a4a4a">46</text>
<text x="176.50" y="521.10" font-size="6.0" text-anchor="middle" fill="#4a4a4a" stroke="#4a4a4a">47</text>
<text x="203.20" y="521.10" font-size="6.0" text-anchor="middle" fill="#4a4a4a" stroke="#4a4a4a">48</text>
<text x="227.50" y="521.10" font-size="6.0" text-anchor="middle" fill="#4a4a4a" stroke="#4a4a4a">&gt;48</text>
<rect x="44.50" y="510.63" width="6.10" height="1.17" fill="#b5182b"/>
<rect x="71.30" y="507.41" width="6.10" height="4.39" fill="#b5182b"/>
<rect x="90.80" y="495.71" width="5.90" height="16.09" fill="#fbe3d6"/>
<rect x="98.00" y="508.88" width="6.10" height="2.92" fill="#b5182b"/>
<rect x="117.30" y="502.05" width="5.90" height="9.75" fill="#fbe3d6"/>
<rect x="125.00" y="487.91" width="6.10" height="23.89" fill="#b5182b"/>
<rect x="144.30" y="450.08" width="5.90" height="61.72" fill="#fbe3d6"/>
<rect x="152.00" y="455.54" width="6.10" height="56.26" fill="#b5182b"/>
<rect x="171.20" y="502.05" width="5.90" height="9.75" fill="#fbe3d6"/>
<rect x="178.40" y="504.49" width="6.10" height="7.31" fill="#b5182b"/>
<rect x="205.00" y="510.63" width="6.10" height="1.17" fill="#b5182b"/>
<text x="134.80" y="529.70" font-size="6.3" text-anchor="middle" fill="#4a4a4a" stroke="#4a4a4a"># of chromosomes/cell</text>
<line x1="285.00" y1="511.80" x2="498.80" y2="511.80" stroke="#a6a6a6" stroke-width="0.7"/>
<text x="277.50" y="514.00" font-size="6.1" text-anchor="end" fill="#4a4a4a" stroke="#4a4a4a">0</text>
<text x="277.50" y="494.50" font-size="6.1" text-anchor="end" fill="#4a4a4a" stroke="#4a4a4a">0.2</text>
<text x="277.50" y="475.00" font-size="6.1" text-anchor="end" fill="#4a4a4a" stroke="#4a4a4a">0.4</text>
<text x="277.50" y="455.50" font-size="6.1" text-anchor="end" fill="#4a4a4a" stroke="#4a4a4a">0.6</text>
<text x="277.50" y="436.00" font-size="6.1" text-anchor="end" fill="#4a4a4a" stroke="#4a4a4a">0.8</text>
<text x="262.40" y="471.50" font-size="6.4" text-anchor="middle" fill="#4a4a4a" stroke="#4a4a4a" transform="rotate(-90 262.40 471.50)">Fraction of cells</text>
<text x="394.40" y="421.50" font-size="5.8" text-anchor="middle" fill="#231f20" stroke="#231f20">WGD<tspan font-size="3.77" dy="-1.62">+</tspan></text>
<rect x="294.60" y="431.50" width="3.70" height="3.70" fill="#f8cbad"/>
<text x="301.00" y="435.60" font-size="6.15" text-anchor="start" fill="#4a4a4a" stroke="#4a4a4a">Day 0</text>
<rect x="326.00" y="431.30" width="4.30" height="4.30" fill="#b5182b"/>
<text x="332.80" y="435.60" font-size="6.2" text-anchor="start" fill="#4a4a4a" stroke="#4a4a4a">Day 12</text>
<text x="312.00" y="445.50" font-size="6.3" text-anchor="start" fill="#4a4a4a" stroke="#4a4a4a"><tspan font-style="italic">P</tspan> = 0.02</text>
<text x="293.80" y="521.10" font-size="6.0" text-anchor="middle" fill="#4a4a4a" stroke="#4a4a4a">&lt;80</text>
<text x="313.80" y="521.10" font-size="6.0" text-anchor="middle" fill="#4a4a4a" stroke="#4a4a4a">86</text>
<text x="332.60" y="521.10" font-size="6.0" text-anchor="middle" fill="#4a4a4a" stroke="#4a4a4a">87</text>
<text x="352.00" y="521.10" font-size="6.0" text-anchor="middle" fill="#4a4a4a" stroke="#4a4a4a">88</text>
<text x="371.80" y="521.10" font-size="6.0" text-anchor="middle" fill="#4a4a4a" stroke="#4a4a4a">89</text>
<text x="391.60" y="521.10" font-size="6.0" text-anchor="middle" fill="#4a4a4a" stroke="#4a4a4a">90</text>
<text x="411.20" y="521.10" font-size="6.0" text-anchor="middle" fill="#4a4a4a" stroke="#4a4a4a">91</text>
<text x="430.20" y="521.10" font-size="6.0" text-anchor="middle" fill="#4a4a4a" stroke="#4a4a4a">92</text>
<text x="450.00" y="521.10" font-size="6.0" text-anchor="middle" fill="#4a4a4a" stroke="#4a4a4a">93</text>
<text x="469.20" y="521.10" font-size="6.0" text-anchor="middle" fill="#4a4a4a" stroke="#4a4a4a">94</text>
<text x="486.40" y="521.10" font-size="6.0" text-anchor="middle" fill="#4a4a4a" stroke="#4a4a4a">&gt;94</text>
<rect x="295.00" y="508.88" width="4.50" height="2.92" fill="#b5182b"/>
<rect x="314.20" y="508.88" width="4.50" height="2.92" fill="#b5182b"/>
<rect x="347.80" y="505.95" width="4.10" height="5.85" fill="#f8cbad"/>
<rect x="372.50" y="502.05" width="4.50" height="9.75" fill="#b5182b"/>
<rect x="386.80" y="506.44" width="4.10" height="5.36" fill="#f8cbad"/>
<rect x="392.00" y="502.05" width="4.50" height="9.75" fill="#b5182b"/>
<rect x="406.20" y="506.44" width="4.10" height="5.36" fill="#f8cbad"/>
<rect x="411.50" y="468.90" width="4.50" height="42.90" fill="#b5182b"/>
<rect x="425.50" y="439.16" width="4.10" height="72.64" fill="#f8cbad"/>
<rect x="431.00" y="495.52" width="4.50" height="16.28" fill="#b5182b"/>
<rect x="450.50" y="498.83" width="4.50" height="12.97" fill="#b5182b"/>
<rect x="464.50" y="500.10" width="4.10" height="11.70" fill="#f8cbad"/>
<rect x="470.00" y="508.88" width="4.50" height="2.92" fill="#b5182b"/>
<text x="384.10" y="529.70" font-size="6.4" text-anchor="middle" fill="#4a4a4a" stroke="#4a4a4a"># of chromosomes/cell</text>
<line x1="53.80" y1="671.80" x2="204.00" y2="671.80" stroke="#6a6a6a" stroke-width="0.7"/>
<text x="51.00" y="674.10" font-size="6.4" text-anchor="end" fill="#333" stroke="#333">0</text>
<text x="51.00" y="664.50" font-size="6.4" text-anchor="end" fill="#333" stroke="#333">10</text>
<text x="51.00" y="654.90" font-size="6.4" text-anchor="end" fill="#333" stroke="#333">20</text>
<text x="51.00" y="645.30" font-size="6.4" text-anchor="end" fill="#333" stroke="#333">30</text>
<text x="51.00" y="635.70" font-size="6.4" text-anchor="end" fill="#333" stroke="#333">40</text>
<text x="51.00" y="626.10" font-size="6.4" text-anchor="end" fill="#333" stroke="#333">50</text>
<text x="51.00" y="616.50" font-size="6.4" text-anchor="end" fill="#333" stroke="#333">60</text>
<text x="51.00" y="606.90" font-size="6.4" text-anchor="end" fill="#333" stroke="#333">70</text>
<text x="51.00" y="597.30" font-size="6.4" text-anchor="end" fill="#333" stroke="#333">80</text>
<text x="51.00" y="587.70" font-size="6.4" text-anchor="end" fill="#333" stroke="#333">90</text>
<text x="51.00" y="578.10" font-size="6.4" text-anchor="end" fill="#333" stroke="#333">100</text>
<text x="36.40" y="626.00" font-size="6.4" text-anchor="middle" fill="#333" stroke="#333" transform="rotate(-90 36.40 626.00)">% of cells</text>
<text x="129.80" y="546.90" font-size="6.3" text-anchor="middle" fill="#231f20" stroke="#231f20">Whole-chromosome aneuploidies</text>
<rect x="104.40" y="551.80" width="2.90" height="2.90" fill="#231f20"/>
<text x="108.80" y="555.10" font-size="6.3" text-anchor="start" fill="#231f20" stroke="#231f20">With</text>
<rect x="125.60" y="552.20" width="2.10" height="2.10" fill="#c8c8c8"/>
<text x="130.40" y="555.10" font-size="6.3" text-anchor="start" fill="#231f20" stroke="#231f20">Without</text>
<rect x="59.50" y="575.80" width="39.80" height="57.90" fill="#c6c6c6"/>
<rect x="59.50" y="633.40" width="39.80" height="38.40" fill="#231f20"/>
<rect x="158.80" y="575.80" width="39.30" height="22.38" fill="#c6c6c6"/>
<rect x="158.80" y="597.88" width="39.30" height="73.92" fill="#231f20"/>
<path d="M75.5 574 V568.5 H175.8 V574" fill="none" stroke="#333" stroke-width="0.8"/>
<text x="126.20" y="570.20" font-size="10.8" text-anchor="middle" fill="#231f20" stroke="#231f20">**</text>
<text x="79.00" y="681.00" font-size="6.1" text-anchor="middle" fill="#231f20" stroke="#231f20">WGD<tspan font-size="3.96" dy="-1.71">−</tspan></text>
<text x="178.80" y="681.00" font-size="6.1" text-anchor="middle" fill="#231f20" stroke="#231f20">WGD<tspan font-size="3.96" dy="-1.71">+</tspan></text>
<line x1="285.00" y1="671.80" x2="483.80" y2="671.80" stroke="#6a6a6a" stroke-width="0.7"/>
<text x="277.50" y="674.10" font-size="6.4" text-anchor="end" fill="#333" stroke="#333">0</text>
<text x="277.50" y="665.00" font-size="6.4" text-anchor="end" fill="#333" stroke="#333">10</text>
<text x="277.50" y="655.90" font-size="6.4" text-anchor="end" fill="#333" stroke="#333">20</text>
<text x="277.50" y="646.80" font-size="6.4" text-anchor="end" fill="#333" stroke="#333">30</text>
<text x="277.50" y="637.70" font-size="6.4" text-anchor="end" fill="#333" stroke="#333">40</text>
<text x="277.50" y="628.60" font-size="6.4" text-anchor="end" fill="#333" stroke="#333">50</text>
<text x="277.50" y="619.50" font-size="6.4" text-anchor="end" fill="#333" stroke="#333">60</text>
<text x="277.50" y="610.40" font-size="6.4" text-anchor="end" fill="#333" stroke="#333">70</text>
<text x="277.50" y="601.30" font-size="6.4" text-anchor="end" fill="#333" stroke="#333">80</text>
<text x="277.50" y="592.20" font-size="6.4" text-anchor="end" fill="#333" stroke="#333">90</text>
<text x="277.50" y="583.10" font-size="6.4" text-anchor="end" fill="#333" stroke="#333">100</text>
<text x="263.40" y="625.80" font-size="6.4" text-anchor="middle" fill="#333" stroke="#333" transform="rotate(-90 263.40 625.80)">% of events</text>
<text x="385.40" y="547.00" font-size="6.3" text-anchor="middle" fill="#231f20" stroke="#231f20">Whole-chromosome aneuploidies</text>
<rect x="359.40" y="551.60" width="3.10" height="3.10" fill="#9e1b20"/>
<text x="364.60" y="555.60" font-size="6.2" text-anchor="start" fill="#231f20" stroke="#231f20">Gains</text>
<rect x="385.80" y="551.60" width="3.10" height="3.10" fill="#2b3990"/>
<text x="390.80" y="555.60" font-size="6.2" text-anchor="start" fill="#231f20" stroke="#231f20">Losses</text>
<rect x="315.00" y="580.80" width="39.50" height="50.80" fill="#2b3990"/>
<rect x="315.00" y="631.30" width="39.50" height="40.50" fill="#9e1b20"/>
<rect x="414.50" y="580.80" width="39.80" height="69.00" fill="#2b3990"/>
<rect x="414.50" y="649.50" width="39.80" height="22.30" fill="#9e1b20"/>
<path d="M335.8 574 V568.5 H436.2 V574" fill="none" stroke="#333" stroke-width="0.8"/>
<text x="386.20" y="570.20" font-size="10.8" text-anchor="middle" fill="#231f20" stroke="#231f20">***</text>
<text x="335.80" y="681.00" font-size="6.1" text-anchor="middle" fill="#231f20" stroke="#231f20">WGD<tspan font-size="3.96" dy="-1.71">−</tspan></text>
<text x="435.60" y="681.00" font-size="6.1" text-anchor="middle" fill="#231f20" stroke="#231f20">WGD<tspan font-size="3.96" dy="-1.71">+</tspan></text>
</svg>
</body>
</html>
